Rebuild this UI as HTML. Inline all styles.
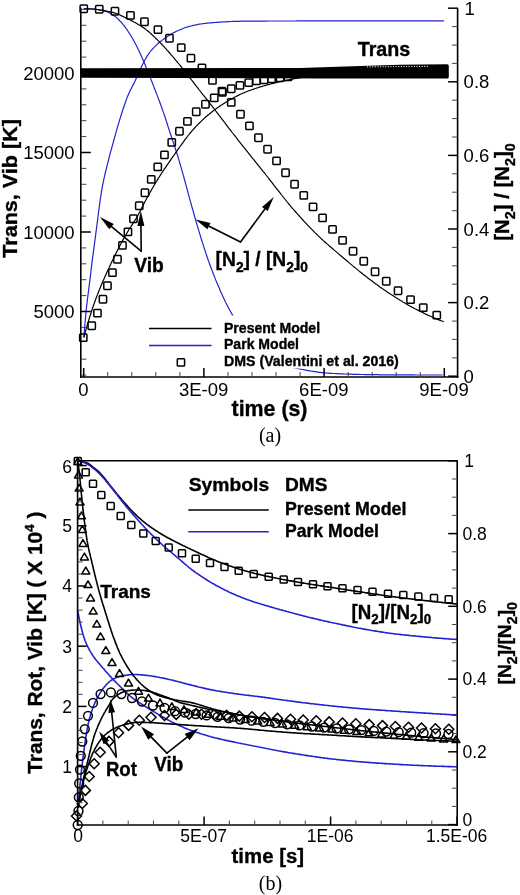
<!DOCTYPE html>
<html lang="en"><head><meta charset="utf-8"><title>Figure</title>
<style>html,body{margin:0;padding:0;background:#fff}svg{display:block}</style></head>
<body>
<svg width="520" height="895" viewBox="0 0 520 895">
<rect width="520" height="895" fill="#fff"/>
<polyline points="83.8,337.5 85,322.7 86.2,310 87.4,299.6 88.6,290.3 89.8,280.8 91,270.7 92.2,260.9 93.4,251.9 94.6,242.8 95.8,233.6 97,224.5 98.2,215 99.4,205.8 100.6,197.4 101.8,189.7 103,183.3 104.2,177.7 105.4,172.5 106.6,167.7 107.8,162.8 109,158 110.2,153.4 111.5,148.8 112.7,144.4 113.9,140 115.1,135.7 116.3,131.4 117.5,127.2 118.7,123.1 119.9,119.1 121.1,115.3 122.3,111.5 123.5,107.8 124.7,104.2 125.9,100.8 127.1,97.6 128.3,94.7 129.5,92 130.7,89.5 131.9,87.2 133.1,84.9 134.3,82.6 135.5,80.1 136.7,77.5 138,74.7 139.2,71.8 140.4,69 141.6,66.4 142.8,64 144,61.7 145.2,59.5 146.4,57.4 147.6,55.4 148.8,53.6 150,52 151.2,50.5 152.4,49.1 153.6,47.8 154.8,46.6 156,45.5 157.2,44.4 158.4,43.3 159.6,42.3 160.8,41.3 162,40.4 163.2,39.4 164.5,38.5 165.7,37.7 166.9,36.8 168.1,36 169.3,35.2 170.5,34.5 171.7,33.8 172.9,33.1 174.1,32.5 175.3,31.9 176.5,31.3 177.7,30.7 178.9,30.2 180.1,29.7 181.3,29.2 182.5,28.7 183.7,28.2 184.9,27.8 186.1,27.4 187.3,27 188.5,26.6 189.7,26.3 191,26 192.2,25.7 193.4,25.4 194.6,25.2 195.8,24.9 197,24.7 198.2,24.4 199.4,24.2 200.6,24 201.8,23.8 203,23.7 204.2,23.5 205.4,23.4 206.6,23.2 207.8,23.1 209,23 210.2,22.9 211.4,22.8 212.6,22.7 213.8,22.6 215,22.5 216.2,22.4 217.5,22.3 218.7,22.2 219.9,22.2 221.1,22.1 222.3,22 223.5,21.9 224.7,21.9 225.9,21.8 227.1,21.7 228.3,21.7 229.5,21.6 230.7,21.5 231.9,21.5 233.1,21.4 234.3,21.4 235.5,21.3 236.7,21.3 237.9,21.3 239.1,21.3 240.3,21.2 241.5,21.2 242.7,21.2 244,21.2 245.2,21.2 246.4,21.2 247.6,21.2 248.8,21.2 250,21.2 251.2,21.1 252.4,21.1 253.6,21.1 254.8,21.1 256,21.1 257.2,21.1 258.4,21.1 259.6,21.1 260.8,21.1 262,21.1 263.2,21.1 264.4,21.1 265.6,21.1 266.8,21.1 268,21 269.2,21 270.4,21 271.7,21 272.9,21 274.1,21 275.3,21 276.5,21 277.7,21 278.9,21 280.1,21 281.3,21 282.5,21 283.7,21 284.9,21 286.1,21 287.3,21 288.5,21 289.7,21 290.9,21 292.1,21 293.3,21 294.5,21 295.7,21 296.9,20.9 298.2,20.9 299.4,20.9 300.6,20.9 301.8,20.9 303,20.9 304.2,20.9 305.4,20.9 306.6,20.9 307.8,20.9 309,20.9 310.2,20.9 311.4,20.9 312.6,20.9 313.8,20.9 315,20.9 316.2,20.9 317.4,20.9 318.6,20.9 319.8,20.9 321,20.9 322.2,20.9 323.4,20.9 324.7,20.9 325.9,20.9 327.1,20.9 328.3,20.9 329.5,20.9 330.7,20.9 331.9,20.9 333.1,20.9 334.3,20.9 335.5,20.9 336.7,20.9 337.9,20.9 339.1,20.9 340.3,20.9 341.5,20.9 342.7,20.9 343.9,20.9 345.1,20.9 346.3,20.9 347.5,20.9 348.7,20.9 349.9,20.9 351.2,20.9 352.4,20.9 353.6,20.9 354.8,20.9 356,20.9 357.2,20.9 358.4,20.9 359.6,20.9 360.8,20.9 362,20.8 363.2,20.8 364.4,20.8 365.6,20.8 366.8,20.8 368,20.8 369.2,20.8 370.4,20.8 371.6,20.8 372.8,20.8 374,20.8 375.2,20.8 376.4,20.8 377.7,20.8 378.9,20.8 380.1,20.8 381.3,20.8 382.5,20.8 383.7,20.8 384.9,20.8 386.1,20.8 387.3,20.8 388.5,20.8 389.7,20.8 390.9,20.8 392.1,20.8 393.3,20.8 394.5,20.8 395.7,20.8 396.9,20.8 398.1,20.8 399.3,20.8 400.5,20.8 401.7,20.8 402.9,20.8 404.2,20.8 405.4,20.8 406.6,20.8 407.8,20.8 409,20.8 410.2,20.8 411.4,20.8 412.6,20.8 413.8,20.8 415,20.8 416.2,20.8 417.4,20.8 418.6,20.8 419.8,20.8 421,20.8 422.2,20.8 423.4,20.8 424.6,20.8 425.8,20.8 427,20.8 428.2,20.8 429.4,20.8 430.7,20.8 431.9,20.8 433.1,20.8 434.3,20.8 435.5,20.8 436.7,20.8 437.9,20.8 439.1,20.8 440.3,20.8 441.5,20.8 442.7,20.8 443.9,20.8" fill="none" stroke="#2323d2" stroke-width="1.2" stroke-linejoin="round" />
<polyline points="83.8,8.8 85,8.8 86.2,8.8 87.4,8.8 88.6,8.8 89.8,8.9 91,8.9 92.2,9 93.4,9.1 94.6,9.2 95.8,9.3 97,9.5 98.2,9.7 99.4,9.9 100.6,10.1 101.8,10.4 103,10.7 104.2,11 105.4,11.4 106.6,11.8 107.8,12.3 109,12.8 110.2,13.4 111.4,14 112.6,14.7 113.8,15.5 115,16.4 116.2,17.3 117.4,18.4 118.6,19.5 119.8,20.8 121,22 122.2,23.4 123.4,24.9 124.6,26.4 125.8,28.1 127,29.7 128.2,31.5 129.4,33.3 130.6,35.2 131.8,37.2 133,39.3 134.2,41.5 135.4,43.7 136.6,46 137.8,48.5 139,51 140.2,53.6 141.4,56.2 142.6,58.9 143.8,61.7 145,64.5 146.2,67.4 147.4,70.4 148.6,73.4 149.8,76.4 151,79.4 152.2,82.5 153.4,85.6 154.6,88.7 155.8,91.8 157,94.9 158.2,98.1 159.4,101.3 160.6,104.5 161.8,107.7 163,111.1 164.2,114.6 165.4,118.2 166.6,121.9 167.8,125.7 169,129.4 170.2,133.2 171.4,136.8 172.6,140.4 173.8,143.9 175,147.5 176.2,151.2 177.4,155 178.6,158.9 179.8,163 181,167.2 182.2,171.4 183.4,175.7 184.6,180 185.8,184.4 187,188.8 188.2,193.3 189.4,197.8 190.6,202.2 191.8,206.5 193,210.7 194.2,215 195.4,219.1 196.6,223.3 197.8,227.4 199,231.4 200.2,235.4 201.4,239.3 202.6,243.1 203.8,246.9 205,250.6 206.2,254.2 207.4,257.7 208.6,261.1 209.8,264.5 211,267.8 212.2,270.9 213.4,274 214.6,277.1 215.8,280.1 217,283 218.2,285.8 219.4,288.6 220.6,291.4 221.8,294.1 223,296.7 224.2,299.3 225.4,301.8 226.6,304.2 227.8,306.5 229,308.8 230.2,311 231.4,313.1 232.6,315.2 233.8,317.2 235,319.2 236.2,321.1 237.4,323.1 238.6,325 239.8,326.8 241,328.6 242.2,330.3 243.4,331.9 244.6,333.5 245.8,335 247,336.5 248.2,338 249.4,339.4 250.6,340.7 251.8,342.1 253,343.4 254.2,344.6 255.4,345.8 256.6,347 257.8,348.1 259,349.2 260.2,350.2 261.4,351.1 262.6,352.1 263.8,353 265,353.9 266.2,354.7 267.4,355.5 268.6,356.3 269.8,357 271,357.8 272.2,358.5 273.4,359.2 274.6,359.8 275.8,360.4 277,361 278.2,361.6 279.4,362.2 280.6,362.8 281.8,363.4 283,363.9 284.2,364.4 285.4,364.9 286.6,365.3 287.8,365.8 289,366.2 290.2,366.6 291.4,366.9 292.6,367.3 293.8,367.6 295,367.9 296.2,368.1 297.4,368.4 298.6,368.7 299.8,368.9 301,369.2 302.2,369.4 303.4,369.7 304.6,369.9 305.8,370.2 307,370.4 308.2,370.6 309.4,370.8 310.6,371 311.8,371.2 313,371.4 314.2,371.6 315.4,371.7 316.6,371.9 317.8,372.1 319,372.3 320.2,372.4 321.4,372.6 322.6,372.7 323.9,372.8 325.1,372.9 326.3,373 327.5,373.1 328.7,373.2 329.9,373.3 331.1,373.3 332.3,373.4 333.5,373.5 334.7,373.5 335.9,373.6 337.1,373.7 338.3,373.7 339.5,373.8 340.7,373.8 341.9,373.9 343.1,373.9 344.3,374 345.5,374 346.7,374.1 347.9,374.1 349.1,374.1 350.3,374.2 351.5,374.2 352.7,374.3 353.9,374.3 355.1,374.3 356.3,374.4 357.5,374.4 358.7,374.4 359.9,374.5 361.1,374.5 362.3,374.5 363.5,374.5 364.7,374.6 365.9,374.6 367.1,374.6 368.3,374.6 369.5,374.6 370.7,374.7 371.9,374.7 373.1,374.7 374.3,374.7 375.5,374.7 376.7,374.7 377.9,374.7 379.1,374.8 380.3,374.8 381.5,374.8 382.7,374.8 383.9,374.8 385.1,374.8 386.3,374.8 387.5,374.8 388.7,374.8 389.9,374.8 391.1,374.9 392.3,374.9 393.5,374.9 394.7,374.9 395.9,374.9 397.1,374.9 398.3,374.9 399.5,374.9 400.7,374.9 401.9,374.9 403.1,374.9 404.3,374.9 405.5,374.9 406.7,374.9 407.9,374.9 409.1,374.9 410.3,374.9 411.5,374.9 412.7,374.9 413.9,374.9 415.1,375 416.3,375 417.5,375 418.7,375 419.9,375 421.1,375 422.3,375 423.5,375 424.7,375 425.9,375 427.1,375 428.3,375 429.5,375 430.7,375 431.9,375 433.1,375 434.3,375 435.5,375 436.7,375 437.9,375 439.1,375 440.3,375 441.5,375 442.7,375" fill="none" stroke="#2323d2" stroke-width="1.2" stroke-linejoin="round" />
<polyline points="83.8,8.8 85,8.8 86.2,8.8 87.4,8.8 88.6,8.9 89.8,8.9 91,9 92.2,9 93.4,9.1 94.6,9.2 95.8,9.3 97,9.5 98.2,9.6 99.4,9.8 100.6,10 101.8,10.2 103,10.4 104.2,10.6 105.4,10.8 106.6,11 107.8,11.3 109,11.5 110.2,11.8 111.4,12.1 112.6,12.4 113.9,12.7 115.1,13.1 116.3,13.5 117.5,14 118.7,14.5 119.9,15 121.1,15.6 122.3,16.1 123.5,16.7 124.7,17.3 125.9,17.9 127.1,18.6 128.3,19.1 129.5,19.7 130.7,20.3 131.9,20.9 133.1,21.5 134.3,22.2 135.5,22.8 136.7,23.5 137.9,24.2 139.1,24.9 140.3,25.6 141.5,26.4 142.7,27.2 144,28 145.2,28.9 146.4,29.9 147.6,30.8 148.8,31.8 150,32.9 151.2,34 152.4,35.1 153.6,36.2 154.8,37.4 156,38.5 157.2,39.7 158.4,40.9 159.6,42.1 160.8,43.3 162,44.5 163.2,45.8 164.4,47.1 165.6,48.4 166.8,49.8 168,51.1 169.2,52.5 170.4,53.9 171.6,55.3 172.8,56.7 174.1,58.2 175.3,59.6 176.5,61.1 177.7,62.5 178.9,64 180.1,65.5 181.3,66.9 182.5,68.4 183.7,69.9 184.9,71.4 186.1,72.9 187.3,74.4 188.5,76 189.7,77.6 190.9,79.1 192.1,80.7 193.3,82.2 194.5,83.8 195.7,85.4 196.9,86.9 198.1,88.4 199.3,90 200.5,91.5 201.7,93.1 202.9,94.6 204.2,96.1 205.4,97.7 206.6,99.2 207.8,100.7 209,102.3 210.2,103.8 211.4,105.3 212.6,106.9 213.8,108.4 215,110 216.2,111.5 217.4,113.1 218.6,114.7 219.8,116.2 221,117.8 222.2,119.4 223.4,120.9 224.6,122.5 225.8,124.1 227,125.7 228.2,127.3 229.4,128.8 230.6,130.4 231.8,132 233,133.5 234.3,135.1 235.5,136.7 236.7,138.2 237.9,139.8 239.1,141.3 240.3,142.8 241.5,144.4 242.7,145.9 243.9,147.4 245.1,148.9 246.3,150.4 247.5,151.9 248.7,153.4 249.9,154.9 251.1,156.4 252.3,157.9 253.5,159.4 254.7,160.9 255.9,162.4 257.1,163.9 258.3,165.4 259.5,166.9 260.7,168.4 261.9,169.9 263.1,171.4 264.4,172.9 265.6,174.5 266.8,176 268,177.5 269.2,179.1 270.4,180.6 271.6,182.2 272.8,183.7 274,185.3 275.2,186.8 276.4,188.4 277.6,189.9 278.8,191.4 280,192.9 281.2,194.5 282.4,196 283.6,197.5 284.8,199 286,200.5 287.2,202 288.4,203.5 289.6,204.9 290.8,206.4 292,207.8 293.2,209.2 294.5,210.6 295.7,212 296.9,213.4 298.1,214.7 299.3,216 300.5,217.4 301.7,218.7 302.9,220 304.1,221.3 305.3,222.6 306.5,223.9 307.7,225.2 308.9,226.4 310.1,227.7 311.3,228.9 312.5,230.1 313.7,231.4 314.9,232.6 316.1,233.7 317.3,234.9 318.5,236.1 319.7,237.2 320.9,238.4 322.1,239.5 323.3,240.6 324.6,241.7 325.8,242.8 327,243.9 328.2,244.9 329.4,246 330.6,247 331.8,248 333,249 334.2,250.1 335.4,251.1 336.6,252.1 337.8,253.1 339,254.1 340.2,255.2 341.4,256.2 342.6,257.2 343.8,258.3 345,259.3 346.2,260.3 347.4,261.3 348.6,262.4 349.8,263.4 351,264.4 352.2,265.4 353.4,266.4 354.7,267.4 355.9,268.4 357.1,269.4 358.3,270.4 359.5,271.4 360.7,272.3 361.9,273.3 363.1,274.3 364.3,275.2 365.5,276.1 366.7,277.1 367.9,278 369.1,278.9 370.3,279.8 371.5,280.7 372.7,281.6 373.9,282.5 375.1,283.4 376.3,284.3 377.5,285.1 378.7,286 379.9,286.9 381.1,287.7 382.3,288.6 383.5,289.4 384.8,290.2 386,291.1 387.2,291.9 388.4,292.7 389.6,293.5 390.8,294.3 392,295 393.2,295.8 394.4,296.6 395.6,297.4 396.8,298.1 398,298.9 399.2,299.6 400.4,300.4 401.6,301.1 402.8,301.9 404,302.6 405.2,303.3 406.4,304 407.6,304.7 408.8,305.4 410,306.1 411.2,306.7 412.4,307.4 413.6,308 414.9,308.7 416.1,309.3 417.3,309.9 418.5,310.5 419.7,311.1 420.9,311.7 422.1,312.3 423.3,312.9 424.5,313.5 425.7,314.1 426.9,314.6 428.1,315.2 429.3,315.7 430.5,316.3 431.7,316.8 432.9,317.3 434.1,317.9 435.3,318.4 436.5,318.9 437.7,319.4 438.9,319.9 440.1,320.4 441.3,320.8 442.5,321.3 443.8,321.8" fill="none" stroke="#000" stroke-width="1.2" stroke-linejoin="round" />
<polyline points="83.8,337.5 85,333.1 86.2,328.9 87.4,324.7 88.6,320.7 89.8,316.8 91,313 92.2,309.3 93.4,305.8 94.6,302.3 95.8,299 97,295.9 98.2,292.8 99.4,289.8 100.6,286.8 101.8,284 103,281.1 104.2,278.4 105.4,275.7 106.6,273 107.8,270.3 109.1,267.7 110.3,265.1 111.5,262.6 112.7,260 113.9,257.5 115.1,255.1 116.3,252.7 117.5,250.3 118.7,247.9 119.9,245.6 121.1,243.3 122.3,241.1 123.5,238.9 124.7,236.7 125.9,234.7 127.1,232.7 128.3,230.7 129.5,228.8 130.7,227 131.9,225.1 133.1,223.2 134.4,221.3 135.6,219.3 136.8,217.3 138,215.2 139.2,213 140.4,210.7 141.6,208.3 142.8,206 144,203.6 145.2,201.3 146.4,199 147.6,196.8 148.8,194.7 150,192.5 151.2,190.4 152.4,188.3 153.6,186.2 154.8,184.2 156,182.2 157.2,180.2 158.5,178.2 159.7,176.3 160.9,174.4 162.1,172.5 163.3,170.7 164.5,168.9 165.7,167.1 166.9,165.3 168.1,163.6 169.3,161.9 170.5,160.1 171.7,158.4 172.9,156.7 174.1,155 175.3,153.3 176.5,151.6 177.7,149.9 178.9,148.2 180.1,146.5 181.3,144.8 182.5,143.1 183.8,141.4 185,139.7 186.2,138.1 187.4,136.5 188.6,135 189.8,133.5 191,132.1 192.2,130.7 193.4,129.3 194.6,128 195.8,126.7 197,125.4 198.2,124.2 199.4,123 200.6,121.8 201.8,120.6 203,119.5 204.2,118.4 205.4,117.3 206.6,116.2 207.8,115.2 209.1,114.2 210.3,113.2 211.5,112.2 212.7,111.3 213.9,110.3 215.1,109.4 216.3,108.6 217.5,107.7 218.7,106.9 219.9,106 221.1,105.2 222.3,104.5 223.5,103.7 224.7,102.9 225.9,102.2 227.1,101.5 228.3,100.8 229.5,100.1 230.7,99.4 231.9,98.7 233.2,98 234.4,97.3 235.6,96.7 236.8,96.1 238,95.5 239.2,94.9 240.4,94.3 241.6,93.8 242.8,93.3 244,92.8 245.2,92.3 246.4,91.8 247.6,91.3 248.8,90.8 250,90.4 251.2,90 252.4,89.5 253.6,89.1 254.8,88.7 256,88.3 257.2,87.9 258.5,87.5 259.7,87.1 260.9,86.7 262.1,86.4 263.3,86 264.5,85.6 265.7,85.3 266.9,85 268.1,84.6 269.3,84.3 270.5,84 271.7,83.7 272.9,83.4 274.1,83.1 275.3,82.8 276.5,82.5 277.7,82.2 278.9,82 280.1,81.7 281.3,81.4 282.6,81.1 283.8,80.9 285,80.6 286.2,80.4 287.4,80.1 288.6,79.9 289.8,79.6 291,79.4 292.2,79.2 293.4,78.9 294.6,78.7 295.8,78.5 297,78.3 298.2,78 299.4,77.8 300.6,77.6 301.8,77.4 303,77.2 304.2,77 305.4,76.9 306.6,76.7 307.9,76.6 309.1,76.4 310.3,76.3 311.5,76.1 312.7,76 313.9,75.9 315.1,75.7 316.3,75.6 317.5,75.5 318.7,75.4 319.9,75.3 321.1,75.2 322.3,75 323.5,74.9 324.7,74.9 325.9,74.8 327.1,74.7 328.3,74.6 329.5,74.5 330.7,74.5 331.9,74.4 333.2,74.3 334.4,74.3 335.6,74.2 336.8,74.1 338,74.1 339.2,74 340.4,74 341.6,73.9 342.8,73.9 344,73.8 345.2,73.8 346.4,73.7 347.6,73.7 348.8,73.6 350,73.6 351.2,73.6 352.4,73.5 353.6,73.5 354.8,73.4 356,73.4 357.3,73.4 358.5,73.3 359.7,73.3 360.9,73.3 362.1,73.2 363.3,73.2 364.5,73.2 365.7,73.2 366.9,73.1 368.1,73.1 369.3,73.1 370.5,73.1 371.7,73 372.9,73 374.1,73 375.3,73 376.5,72.9 377.7,72.9 378.9,72.9 380.1,72.9 381.3,72.9 382.6,72.8 383.8,72.8 385,72.8 386.2,72.8 387.4,72.8 388.6,72.7 389.8,72.7 391,72.7 392.2,72.7 393.4,72.7 394.6,72.7 395.8,72.6 397,72.6 398.2,72.6 399.4,72.6 400.6,72.6 401.8,72.6 403,72.6 404.2,72.6 405.4,72.5 406.6,72.5 407.9,72.5 409.1,72.5 410.3,72.5 411.5,72.5 412.7,72.5 413.9,72.5 415.1,72.5 416.3,72.4 417.5,72.4 418.7,72.4 419.9,72.4 421.1,72.4 422.3,72.4 423.5,72.4 424.7,72.4 425.9,72.4 427.1,72.4 428.3,72.4 429.5,72.4 430.7,72.3 432,72.3 433.2,72.3 434.4,72.3 435.6,72.3 436.8,72.3 438,72.3 439.2,72.3 440.4,72.3 441.6,72.3 442.8,72.3 444,72.3" fill="none" stroke="#000" stroke-width="1.2" stroke-linejoin="round" />
<path d="M81.1 68.2 L300 68 L360 66 L400 64.8 L447 64.2 Q448.8 64.2 448.8 66 L448.8 77 Q448.8 78.6 447 78.6 L320 78.4 L81.1 77.8 Z" fill="#000"/>
<line x1="367" y1="66.9" x2="428" y2="66.4" stroke="#fff" stroke-width="1" stroke-dasharray="1.1 1.5"/>
<rect x="80.1" y="5.1" width="7.3" height="7.3" rx="0.8" fill="none" stroke="#000" stroke-width="1.5"/>
<rect x="95.6" y="5.6" width="7.3" height="7.3" rx="0.8" fill="none" stroke="#000" stroke-width="1.5"/>
<rect x="111.3" y="7.6" width="7.3" height="7.3" rx="0.8" fill="none" stroke="#000" stroke-width="1.5"/>
<rect x="126.8" y="11.8" width="7.3" height="7.3" rx="0.8" fill="none" stroke="#000" stroke-width="1.5"/>
<rect x="140.8" y="18.1" width="7.3" height="7.3" rx="0.8" fill="none" stroke="#000" stroke-width="1.5"/>
<rect x="154.3" y="25.9" width="7.3" height="7.3" rx="0.8" fill="none" stroke="#000" stroke-width="1.5"/>
<rect x="165.8" y="34.6" width="7.3" height="7.3" rx="0.8" fill="none" stroke="#000" stroke-width="1.5"/>
<rect x="177.6" y="43.9" width="7.3" height="7.3" rx="0.8" fill="none" stroke="#000" stroke-width="1.5"/>
<rect x="187.3" y="54.4" width="7.3" height="7.3" rx="0.8" fill="none" stroke="#000" stroke-width="1.5"/>
<rect x="198.3" y="64.3" width="7.3" height="7.3" rx="0.8" fill="none" stroke="#000" stroke-width="1.5"/>
<rect x="208.8" y="76.8" width="7.3" height="7.3" rx="0.8" fill="none" stroke="#000" stroke-width="1.5"/>
<rect x="218.3" y="87.6" width="7.3" height="7.3" rx="0.8" fill="none" stroke="#000" stroke-width="1.5"/>
<rect x="227.6" y="98.8" width="7.3" height="7.3" rx="0.8" fill="none" stroke="#000" stroke-width="1.5"/>
<rect x="236.8" y="110.6" width="7.3" height="7.3" rx="0.8" fill="none" stroke="#000" stroke-width="1.5"/>
<rect x="245.8" y="122.3" width="7.3" height="7.3" rx="0.8" fill="none" stroke="#000" stroke-width="1.5"/>
<rect x="254.8" y="134.1" width="7.3" height="7.3" rx="0.8" fill="none" stroke="#000" stroke-width="1.5"/>
<rect x="263.9" y="145.6" width="7.3" height="7.3" rx="0.8" fill="none" stroke="#000" stroke-width="1.5"/>
<rect x="272.9" y="157.3" width="7.3" height="7.3" rx="0.8" fill="none" stroke="#000" stroke-width="1.5"/>
<rect x="281.9" y="169.1" width="7.3" height="7.3" rx="0.8" fill="none" stroke="#000" stroke-width="1.5"/>
<rect x="290.9" y="180.6" width="7.3" height="7.3" rx="0.8" fill="none" stroke="#000" stroke-width="1.5"/>
<rect x="300.1" y="191.8" width="7.3" height="7.3" rx="0.8" fill="none" stroke="#000" stroke-width="1.5"/>
<rect x="309.4" y="203.3" width="7.3" height="7.3" rx="0.8" fill="none" stroke="#000" stroke-width="1.5"/>
<rect x="318.9" y="214.3" width="7.3" height="7.3" rx="0.8" fill="none" stroke="#000" stroke-width="1.5"/>
<rect x="328.9" y="225.8" width="7.3" height="7.3" rx="0.8" fill="none" stroke="#000" stroke-width="1.5"/>
<rect x="338.9" y="236.8" width="7.3" height="7.3" rx="0.8" fill="none" stroke="#000" stroke-width="1.5"/>
<rect x="349.4" y="247.6" width="7.3" height="7.3" rx="0.8" fill="none" stroke="#000" stroke-width="1.5"/>
<rect x="360.1" y="257.6" width="7.3" height="7.3" rx="0.8" fill="none" stroke="#000" stroke-width="1.5"/>
<rect x="371.4" y="268.1" width="7.3" height="7.3" rx="0.8" fill="none" stroke="#000" stroke-width="1.5"/>
<rect x="382.6" y="277.6" width="7.3" height="7.3" rx="0.8" fill="none" stroke="#000" stroke-width="1.5"/>
<rect x="394.4" y="287.1" width="7.3" height="7.3" rx="0.8" fill="none" stroke="#000" stroke-width="1.5"/>
<rect x="406.9" y="295.9" width="7.3" height="7.3" rx="0.8" fill="none" stroke="#000" stroke-width="1.5"/>
<rect x="419.6" y="303.9" width="7.3" height="7.3" rx="0.8" fill="none" stroke="#000" stroke-width="1.5"/>
<rect x="433.1" y="311.4" width="7.3" height="7.3" rx="0.8" fill="none" stroke="#000" stroke-width="1.5"/>
<rect x="79.6" y="333.9" width="7.3" height="7.3" rx="0.8" fill="none" stroke="#000" stroke-width="1.5"/>
<rect x="88.1" y="322.1" width="7.3" height="7.3" rx="0.8" fill="none" stroke="#000" stroke-width="1.5"/>
<rect x="93.8" y="309.4" width="7.3" height="7.3" rx="0.8" fill="none" stroke="#000" stroke-width="1.5"/>
<rect x="99.3" y="295.6" width="7.3" height="7.3" rx="0.8" fill="none" stroke="#000" stroke-width="1.5"/>
<rect x="103.8" y="282.1" width="7.3" height="7.3" rx="0.8" fill="none" stroke="#000" stroke-width="1.5"/>
<rect x="108.8" y="268.9" width="7.3" height="7.3" rx="0.8" fill="none" stroke="#000" stroke-width="1.5"/>
<rect x="113.8" y="255.6" width="7.3" height="7.3" rx="0.8" fill="none" stroke="#000" stroke-width="1.5"/>
<rect x="118.8" y="241.8" width="7.3" height="7.3" rx="0.8" fill="none" stroke="#000" stroke-width="1.5"/>
<rect x="124.3" y="228.3" width="7.3" height="7.3" rx="0.8" fill="none" stroke="#000" stroke-width="1.5"/>
<rect x="129.8" y="215.1" width="7.3" height="7.3" rx="0.8" fill="none" stroke="#000" stroke-width="1.5"/>
<rect x="135.6" y="202.1" width="7.3" height="7.3" rx="0.8" fill="none" stroke="#000" stroke-width="1.5"/>
<rect x="141.3" y="189.1" width="7.3" height="7.3" rx="0.8" fill="none" stroke="#000" stroke-width="1.5"/>
<rect x="147.6" y="175.8" width="7.3" height="7.3" rx="0.8" fill="none" stroke="#000" stroke-width="1.5"/>
<rect x="154.1" y="163.3" width="7.3" height="7.3" rx="0.8" fill="none" stroke="#000" stroke-width="1.5"/>
<rect x="160.8" y="151.3" width="7.3" height="7.3" rx="0.8" fill="none" stroke="#000" stroke-width="1.5"/>
<rect x="168.1" y="138.8" width="7.3" height="7.3" rx="0.8" fill="none" stroke="#000" stroke-width="1.5"/>
<rect x="175.8" y="127.6" width="7.3" height="7.3" rx="0.8" fill="none" stroke="#000" stroke-width="1.5"/>
<rect x="183.8" y="117.8" width="7.3" height="7.3" rx="0.8" fill="none" stroke="#000" stroke-width="1.5"/>
<rect x="192.6" y="108.1" width="7.3" height="7.3" rx="0.8" fill="none" stroke="#000" stroke-width="1.5"/>
<rect x="201.8" y="100.6" width="7.3" height="7.3" rx="0.8" fill="none" stroke="#000" stroke-width="1.5"/>
<rect x="210.6" y="94.3" width="7.3" height="7.3" rx="0.8" fill="none" stroke="#000" stroke-width="1.5"/>
<rect x="218.8" y="88.6" width="7.3" height="7.3" rx="0.8" fill="none" stroke="#000" stroke-width="1.5"/>
<rect x="227.6" y="85.1" width="7.3" height="7.3" rx="0.8" fill="none" stroke="#000" stroke-width="1.5"/>
<rect x="236.3" y="81.8" width="7.3" height="7.3" rx="0.8" fill="none" stroke="#000" stroke-width="1.5"/>
<rect x="245.1" y="79" width="7.3" height="7.3" rx="0.8" fill="none" stroke="#000" stroke-width="1.5"/>
<rect x="252.8" y="77.3" width="7.3" height="7.3" rx="0.8" fill="none" stroke="#000" stroke-width="1.5"/>
<rect x="260.4" y="76.1" width="7.3" height="7.3" rx="0.8" fill="none" stroke="#000" stroke-width="1.5"/>
<rect x="267.9" y="75.1" width="7.3" height="7.3" rx="0.8" fill="none" stroke="#000" stroke-width="1.5"/>
<rect x="276.4" y="74.1" width="7.3" height="7.3" rx="0.8" fill="none" stroke="#000" stroke-width="1.5"/>
<rect x="284.4" y="73.3" width="7.3" height="7.3" rx="0.8" fill="none" stroke="#000" stroke-width="1.5"/>
<rect x="145" y="315.5" width="258" height="53" fill="#fff"/>
<line x1="149" y1="328.5" x2="211.5" y2="328.5" stroke="#000" stroke-width="1.5" stroke-linecap="butt"/>
<line x1="149" y1="345.5" x2="211.5" y2="345.5" stroke="#2323d2" stroke-width="1.5" stroke-linecap="butt"/>
<rect x="177.3" y="358.7" width="7.3" height="7.3" rx="0.8" fill="none" stroke="#000" stroke-width="1.5"/>
<text transform="translate(224 332.6) scale(1.0053 1)" font-family='"Liberation Sans", Arial, Helvetica, sans-serif' font-size="14" font-weight="bold" stroke="#000" stroke-width="0.35" >Present Model</text>
<text transform="translate(224 349.1) scale(1.0041 1)" font-family='"Liberation Sans", Arial, Helvetica, sans-serif' font-size="14" font-weight="bold" stroke="#000" stroke-width="0.35" >Park Model</text>
<text transform="translate(224 365.9) scale(1.0132 1)" font-family='"Liberation Sans", Arial, Helvetica, sans-serif' font-size="14" font-weight="bold" stroke="#000" stroke-width="0.35" >DMS (Valentini et al. 2016)</text>
<line x1="141.2" y1="251.2" x2="110" y2="225.3" stroke="#000" stroke-width="1.6" stroke-linecap="round"/>
<path d="M100 217L113.8 223.9L109.3 229.3Z" fill="#000"/>
<line x1="141.2" y1="251.2" x2="140.9" y2="224" stroke="#000" stroke-width="1.6" stroke-linecap="round"/>
<path d="M140.8 211L144.4 226L137.4 226Z" fill="#000"/>
<text transform="translate(134.3 271.8) scale(0.9838 1)" font-family='"Liberation Sans", Arial, Helvetica, sans-serif' font-size="19.5" font-weight="bold" stroke="#000" stroke-width="0.35" >Vib</text>
<line x1="240.5" y1="242" x2="207.1" y2="225.3" stroke="#000" stroke-width="1.6" stroke-linecap="round"/>
<path d="M195.5 219.5L210.5 223.1L207.4 229.3Z" fill="#000"/>
<line x1="240.5" y1="242" x2="266" y2="207.5" stroke="#000" stroke-width="1.6" stroke-linecap="round"/>
<path d="M273.8 197L267.7 211.1L262 207Z" fill="#000"/>
<text transform="translate(215.6 266.3) scale(0.9856 1)" font-family='"Liberation Sans", Arial, Helvetica, sans-serif' font-size="19.5" font-weight="bold" stroke="#000" stroke-width="0.35" >[N<tspan font-size="14" dy="5.5">2</tspan><tspan dy="-5.5">] / [N</tspan><tspan font-size="14" dy="5.5">2</tspan><tspan dy="-5.5">]</tspan><tspan font-size="14" dy="5.5">0</tspan></text>
<text transform="translate(357.7 55.6) scale(1.0091 1)" font-family='"Liberation Sans", Arial, Helvetica, sans-serif' font-size="19.5" font-weight="bold" stroke="#000" stroke-width="0.35" >Trans</text>
<line x1="80.8" y1="7.7" x2="80.8" y2="377.8" stroke="#000" stroke-width="1.6" stroke-linecap="butt"/>
<line x1="80" y1="377" x2="458.4" y2="377" stroke="#000" stroke-width="1.6" stroke-linecap="butt"/>
<line x1="457.6" y1="7.7" x2="457.6" y2="377.8" stroke="#000" stroke-width="1.6" stroke-linecap="butt"/>
<line x1="80.8" y1="375.1" x2="86.4" y2="375.1" stroke="#444" stroke-width="1.0" stroke-linecap="butt"/>
<line x1="80.8" y1="359.2" x2="86.4" y2="359.2" stroke="#444" stroke-width="1.0" stroke-linecap="butt"/>
<line x1="80.8" y1="327.4" x2="86.4" y2="327.4" stroke="#444" stroke-width="1.0" stroke-linecap="butt"/>
<line x1="80.8" y1="311.5" x2="90.8" y2="311.5" stroke="#000" stroke-width="1.5" stroke-linecap="butt"/>
<line x1="80.8" y1="295.6" x2="86.4" y2="295.6" stroke="#444" stroke-width="1.0" stroke-linecap="butt"/>
<line x1="80.8" y1="279.7" x2="86.4" y2="279.7" stroke="#444" stroke-width="1.0" stroke-linecap="butt"/>
<line x1="80.8" y1="263.8" x2="86.4" y2="263.8" stroke="#444" stroke-width="1.0" stroke-linecap="butt"/>
<line x1="80.8" y1="247.9" x2="86.4" y2="247.9" stroke="#444" stroke-width="1.0" stroke-linecap="butt"/>
<line x1="80.8" y1="232" x2="90.8" y2="232" stroke="#000" stroke-width="1.5" stroke-linecap="butt"/>
<line x1="80.8" y1="216.1" x2="86.4" y2="216.1" stroke="#444" stroke-width="1.0" stroke-linecap="butt"/>
<line x1="80.8" y1="200.2" x2="86.4" y2="200.2" stroke="#444" stroke-width="1.0" stroke-linecap="butt"/>
<line x1="80.8" y1="184.3" x2="86.4" y2="184.3" stroke="#444" stroke-width="1.0" stroke-linecap="butt"/>
<line x1="80.8" y1="168.4" x2="86.4" y2="168.4" stroke="#444" stroke-width="1.0" stroke-linecap="butt"/>
<line x1="80.8" y1="152.5" x2="90.8" y2="152.5" stroke="#000" stroke-width="1.5" stroke-linecap="butt"/>
<line x1="80.8" y1="136.6" x2="86.4" y2="136.6" stroke="#444" stroke-width="1.0" stroke-linecap="butt"/>
<line x1="80.8" y1="120.7" x2="86.4" y2="120.7" stroke="#444" stroke-width="1.0" stroke-linecap="butt"/>
<line x1="80.8" y1="104.8" x2="86.4" y2="104.8" stroke="#444" stroke-width="1.0" stroke-linecap="butt"/>
<line x1="80.8" y1="88.9" x2="86.4" y2="88.9" stroke="#444" stroke-width="1.0" stroke-linecap="butt"/>
<line x1="80.8" y1="73" x2="90.8" y2="73" stroke="#000" stroke-width="1.5" stroke-linecap="butt"/>
<line x1="80.8" y1="57.1" x2="86.4" y2="57.1" stroke="#444" stroke-width="1.0" stroke-linecap="butt"/>
<line x1="80.8" y1="41.2" x2="86.4" y2="41.2" stroke="#444" stroke-width="1.0" stroke-linecap="butt"/>
<line x1="80.8" y1="25.3" x2="86.4" y2="25.3" stroke="#444" stroke-width="1.0" stroke-linecap="butt"/>
<line x1="80.8" y1="9.4" x2="86.4" y2="9.4" stroke="#444" stroke-width="1.0" stroke-linecap="butt"/>
<line x1="448.1" y1="376.2" x2="457.6" y2="376.2" stroke="#000" stroke-width="1.5" stroke-linecap="butt"/>
<line x1="452" y1="357.9" x2="457.6" y2="357.9" stroke="#444" stroke-width="1.0" stroke-linecap="butt"/>
<line x1="452" y1="339.4" x2="457.6" y2="339.4" stroke="#444" stroke-width="1.0" stroke-linecap="butt"/>
<line x1="452" y1="321.1" x2="457.6" y2="321.1" stroke="#444" stroke-width="1.0" stroke-linecap="butt"/>
<line x1="448.1" y1="302.6" x2="457.6" y2="302.6" stroke="#000" stroke-width="1.5" stroke-linecap="butt"/>
<line x1="452" y1="284.2" x2="457.6" y2="284.2" stroke="#444" stroke-width="1.0" stroke-linecap="butt"/>
<line x1="452" y1="265.8" x2="457.6" y2="265.8" stroke="#444" stroke-width="1.0" stroke-linecap="butt"/>
<line x1="452" y1="247.4" x2="457.6" y2="247.4" stroke="#444" stroke-width="1.0" stroke-linecap="butt"/>
<line x1="448.1" y1="229" x2="457.6" y2="229" stroke="#000" stroke-width="1.5" stroke-linecap="butt"/>
<line x1="452" y1="210.7" x2="457.6" y2="210.7" stroke="#444" stroke-width="1.0" stroke-linecap="butt"/>
<line x1="452" y1="192.2" x2="457.6" y2="192.2" stroke="#444" stroke-width="1.0" stroke-linecap="butt"/>
<line x1="452" y1="173.8" x2="457.6" y2="173.8" stroke="#444" stroke-width="1.0" stroke-linecap="butt"/>
<line x1="448.1" y1="155.4" x2="457.6" y2="155.4" stroke="#000" stroke-width="1.5" stroke-linecap="butt"/>
<line x1="452" y1="137" x2="457.6" y2="137" stroke="#444" stroke-width="1.0" stroke-linecap="butt"/>
<line x1="452" y1="118.6" x2="457.6" y2="118.6" stroke="#444" stroke-width="1.0" stroke-linecap="butt"/>
<line x1="452" y1="100.2" x2="457.6" y2="100.2" stroke="#444" stroke-width="1.0" stroke-linecap="butt"/>
<line x1="448.1" y1="81.8" x2="457.6" y2="81.8" stroke="#000" stroke-width="1.5" stroke-linecap="butt"/>
<line x1="452" y1="63.4" x2="457.6" y2="63.4" stroke="#444" stroke-width="1.0" stroke-linecap="butt"/>
<line x1="452" y1="45.1" x2="457.6" y2="45.1" stroke="#444" stroke-width="1.0" stroke-linecap="butt"/>
<line x1="452" y1="26.6" x2="457.6" y2="26.6" stroke="#444" stroke-width="1.0" stroke-linecap="butt"/>
<line x1="448.1" y1="8.2" x2="457.6" y2="8.2" stroke="#000" stroke-width="1.5" stroke-linecap="butt"/>
<line x1="83.7" y1="368" x2="83.7" y2="377" stroke="#000" stroke-width="1.5" stroke-linecap="butt"/>
<line x1="107.7" y1="372" x2="107.7" y2="377" stroke="#444" stroke-width="1.0" stroke-linecap="butt"/>
<line x1="131.8" y1="372" x2="131.8" y2="377" stroke="#444" stroke-width="1.0" stroke-linecap="butt"/>
<line x1="155.8" y1="372" x2="155.8" y2="377" stroke="#444" stroke-width="1.0" stroke-linecap="butt"/>
<line x1="179.9" y1="372" x2="179.9" y2="377" stroke="#444" stroke-width="1.0" stroke-linecap="butt"/>
<line x1="203.9" y1="368" x2="203.9" y2="377" stroke="#000" stroke-width="1.5" stroke-linecap="butt"/>
<line x1="228" y1="372" x2="228" y2="377" stroke="#444" stroke-width="1.0" stroke-linecap="butt"/>
<line x1="252" y1="372" x2="252" y2="377" stroke="#444" stroke-width="1.0" stroke-linecap="butt"/>
<line x1="276" y1="372" x2="276" y2="377" stroke="#444" stroke-width="1.0" stroke-linecap="butt"/>
<line x1="300.1" y1="372" x2="300.1" y2="377" stroke="#444" stroke-width="1.0" stroke-linecap="butt"/>
<line x1="324.1" y1="368" x2="324.1" y2="377" stroke="#000" stroke-width="1.5" stroke-linecap="butt"/>
<line x1="348.2" y1="372" x2="348.2" y2="377" stroke="#444" stroke-width="1.0" stroke-linecap="butt"/>
<line x1="372.2" y1="372" x2="372.2" y2="377" stroke="#444" stroke-width="1.0" stroke-linecap="butt"/>
<line x1="396.2" y1="372" x2="396.2" y2="377" stroke="#444" stroke-width="1.0" stroke-linecap="butt"/>
<line x1="420.3" y1="372" x2="420.3" y2="377" stroke="#444" stroke-width="1.0" stroke-linecap="butt"/>
<line x1="444.3" y1="368" x2="444.3" y2="377" stroke="#000" stroke-width="1.5" stroke-linecap="butt"/>
<text transform="translate(74.6 79.6)" font-family='"Liberation Sans", Arial, Helvetica, sans-serif' font-size="18.5" text-anchor="end" >20000</text>
<text transform="translate(74.6 159.1)" font-family='"Liberation Sans", Arial, Helvetica, sans-serif' font-size="18.5" text-anchor="end" >15000</text>
<text transform="translate(74.6 238.6)" font-family='"Liberation Sans", Arial, Helvetica, sans-serif' font-size="18.5" text-anchor="end" >10000</text>
<text transform="translate(74.6 318.1)" font-family='"Liberation Sans", Arial, Helvetica, sans-serif' font-size="18.5" text-anchor="end" >5000</text>
<text transform="translate(83.4 396)" font-family='"Liberation Sans", Arial, Helvetica, sans-serif' font-size="18.5" text-anchor="middle" >0</text>
<text transform="translate(203.6 396)" font-family='"Liberation Sans", Arial, Helvetica, sans-serif' font-size="18.5" text-anchor="middle" >3E-09</text>
<text transform="translate(323.8 396)" font-family='"Liberation Sans", Arial, Helvetica, sans-serif' font-size="18.5" text-anchor="middle" >6E-09</text>
<text transform="translate(444 396)" font-family='"Liberation Sans", Arial, Helvetica, sans-serif' font-size="18.5" text-anchor="middle" >9E-09</text>
<text transform="translate(464.6 14.8)" font-family='"Liberation Sans", Arial, Helvetica, sans-serif' font-size="18.5" >1</text>
<text transform="translate(463.6 88.4)" font-family='"Liberation Sans", Arial, Helvetica, sans-serif' font-size="18.5" >0.8</text>
<text transform="translate(463.6 162.1)" font-family='"Liberation Sans", Arial, Helvetica, sans-serif' font-size="18.5" >0.6</text>
<text transform="translate(463.6 235.6)" font-family='"Liberation Sans", Arial, Helvetica, sans-serif' font-size="18.5" >0.4</text>
<text transform="translate(463.6 309.2)" font-family='"Liberation Sans", Arial, Helvetica, sans-serif' font-size="18.5" >0.2</text>
<text transform="translate(463.6 382.9)" font-family='"Liberation Sans", Arial, Helvetica, sans-serif' font-size="18.5" >0</text>
<text transform="translate(17.4 257.7) rotate(-90) scale(1.0276 1)" font-family='"Liberation Sans", Arial, Helvetica, sans-serif' font-size="21" font-weight="bold" stroke="#000" stroke-width="0.35" >Trans, Vib [K]</text>
<text transform="translate(509.3 240.7) rotate(-90) scale(1.0203 1)" font-family='"Liberation Sans", Arial, Helvetica, sans-serif' font-size="20" font-weight="bold" stroke="#000" stroke-width="0.35" >[N<tspan font-size="14" dy="5.5">2</tspan><tspan dy="-5.5">] / [N</tspan><tspan font-size="14" dy="5.5">2</tspan><tspan dy="-5.5">]</tspan><tspan font-size="14" dy="5.5">0</tspan></text>
<text transform="translate(269.5 416) scale(1.0033 1)" font-family='"Liberation Sans", Arial, Helvetica, sans-serif' font-size="21.3" font-weight="bold" stroke="#000" stroke-width="0.35" text-anchor="middle" >time (s)</text>
<text transform="translate(270 441.5)" font-family='"Liberation Serif", "Times New Roman", serif' font-size="20" text-anchor="middle" >(a)</text>
<line x1="77.6" y1="460.8" x2="457.2" y2="460.8" stroke="#000" stroke-width="1.5" stroke-linecap="butt"/>
<polyline points="77.5,610 78.8,616.5 80,622.4 81.3,627.7 82.6,632.7 83.8,637.1 85.1,640.8 86.4,643.8 87.7,646.6 88.9,649 90.2,651.3 91.5,653.4 92.7,655.4 94,657.2 95.3,658.9 96.5,660.5 97.8,662.1 99.1,663.5 100.3,665 101.6,666.5 102.9,668 104.2,669.4 105.4,670.9 106.7,672.4 108,673.8 109.2,675.2 110.5,676.6 111.8,678 113,679.3 114.3,680.6 115.6,681.9 116.8,683.2 118.1,684.5 119.4,685.7 120.7,687 121.9,688.2 123.2,689.4 124.5,690.7 125.7,691.9 127,693.1 128.3,694.3 129.5,695.5 130.8,696.6 132.1,697.7 133.3,698.6 134.6,699.6 135.9,700.5 137.2,701.3 138.4,702.1 139.7,702.9 141,703.7 142.2,704.5 143.5,705.3 144.8,706.1 146,706.9 147.3,707.7 148.6,708.5 149.8,709.3 151.1,710 152.4,710.8 153.7,711.6 154.9,712.3 156.2,713.1 157.5,713.8 158.7,714.6 160,715.3 161.3,716 162.5,716.8 163.8,717.5 165.1,718.3 166.3,719 167.6,719.7 168.9,720.4 170.2,721.1 171.4,721.8 172.7,722.4 174,723 175.2,723.6 176.5,724.2 177.8,724.8 179,725.4 180.3,726 181.6,726.6 182.8,727.1 184.1,727.7 185.4,728.2 186.7,728.7 187.9,729.2 189.2,729.7 190.5,730.2 191.7,730.6 193,731.1 194.3,731.5 195.5,732 196.8,732.4 198.1,732.8 199.3,733.2 200.6,733.7 201.9,734.1 203.2,734.5 204.4,734.8 205.7,735.2 207,735.6 208.2,736 209.5,736.3 210.8,736.7 212,737 213.3,737.4 214.6,737.7 215.8,738 217.1,738.3 218.4,738.6 219.7,738.9 220.9,739.2 222.2,739.5 223.5,739.8 224.7,740.1 226,740.4 227.3,740.6 228.5,740.9 229.8,741.2 231.1,741.4 232.3,741.7 233.6,741.9 234.9,742.2 236.2,742.5 237.4,742.7 238.7,743 240,743.2 241.2,743.5 242.5,743.8 243.8,744 245,744.3 246.3,744.5 247.6,744.8 248.8,745 250.1,745.3 251.4,745.5 252.7,745.8 253.9,746 255.2,746.3 256.5,746.5 257.7,746.8 259,747 260.3,747.3 261.5,747.5 262.8,747.8 264.1,748 265.3,748.3 266.6,748.5 267.9,748.8 269.2,749 270.4,749.3 271.7,749.5 273,749.8 274.2,750 275.5,750.2 276.8,750.5 278,750.7 279.3,751 280.6,751.2 281.8,751.4 283.1,751.7 284.4,751.9 285.7,752.1 286.9,752.3 288.2,752.6 289.5,752.8 290.7,753 292,753.2 293.3,753.4 294.5,753.6 295.8,753.8 297.1,754 298.3,754.2 299.6,754.4 300.9,754.6 302.2,754.8 303.4,755 304.7,755.2 306,755.4 307.2,755.6 308.5,755.8 309.8,756 311,756.1 312.3,756.3 313.6,756.5 314.8,756.7 316.1,756.9 317.4,757.1 318.7,757.2 319.9,757.4 321.2,757.6 322.5,757.7 323.7,757.9 325,758.1 326.3,758.2 327.5,758.4 328.8,758.6 330.1,758.7 331.3,758.9 332.6,759 333.9,759.2 335.2,759.3 336.4,759.5 337.7,759.6 339,759.7 340.2,759.9 341.5,760 342.8,760.1 344,760.3 345.3,760.4 346.6,760.5 347.8,760.7 349.1,760.8 350.4,760.9 351.7,761 352.9,761.1 354.2,761.2 355.5,761.4 356.7,761.5 358,761.6 359.3,761.7 360.5,761.8 361.8,761.9 363.1,762 364.3,762.1 365.6,762.2 366.9,762.3 368.2,762.4 369.4,762.5 370.7,762.6 372,762.7 373.2,762.8 374.5,762.9 375.8,763 377,763.1 378.3,763.1 379.6,763.2 380.8,763.3 382.1,763.4 383.4,763.5 384.7,763.6 385.9,763.6 387.2,763.7 388.5,763.8 389.7,763.9 391,764 392.3,764 393.5,764.1 394.8,764.2 396.1,764.3 397.3,764.3 398.6,764.4 399.9,764.5 401.2,764.6 402.4,764.6 403.7,764.7 405,764.8 406.2,764.8 407.5,764.9 408.8,765 410,765 411.3,765.1 412.6,765.2 413.8,765.2 415.1,765.3 416.4,765.3 417.7,765.4 418.9,765.5 420.2,765.5 421.5,765.6 422.7,765.6 424,765.7 425.3,765.7 426.5,765.8 427.8,765.8 429.1,765.9 430.3,765.9 431.6,766 432.9,766 434.2,766.1 435.4,766.1 436.7,766.2 438,766.2 439.2,766.3 440.5,766.3 441.8,766.3 443,766.4 444.3,766.4 445.6,766.5 446.8,766.5 448.1,766.6 449.4,766.6 450.7,766.6 451.9,766.7 453.2,766.7 454.5,766.7 455.7,766.8 457,766.8" fill="none" stroke="#2323d2" stroke-width="1.6" stroke-linejoin="round" />
<polyline points="78,808 78.1,806.8 78.2,805.6 78.3,804.4 78.4,803.2 78.5,801.9 78.6,800.7 78.7,799.5 78.8,798.3 78.9,797.1 79,795.9 79.1,794.7 79.2,793.5 79.3,792.3 79.4,791.1 79.5,789.8 79.7,788.6 79.8,787.4 79.9,786.2 80,785 80.1,783.8 80.2,782.6 80.4,781.4 80.5,780.2 80.6,779 80.7,777.8 80.9,776.5 81,775.3 81.1,774.1 81.2,772.9 81.4,771.7 81.5,770.5 81.6,769.3 81.8,768.1 81.9,766.9 82.1,765.7 82.2,764.5 82.3,763.3 82.5,762.1 82.6,760.8 82.8,759.6 82.9,758.4 83.1,757.2 83.2,756 83.4,754.8 83.5,753.6 83.7,752.4 83.9,751.2 84,750 84.2,748.8 84.3,747.6 84.5,746.4 84.7,745.2 84.8,744 85,742.8 85.2,741.6 85.3,740.4 85.5,739.2 85.7,738 85.9,736.8 86.1,735.6 86.3,734.4 86.5,733.2 86.7,732 86.9,730.8 87.1,729.6 87.3,728.4 87.6,727.2 87.8,726 88,724.8 88.3,723.6 88.6,722.4 88.8,721.2 89.1,720.1 89.4,718.9 89.7,717.7 90.1,716.5 90.4,715.4 90.7,714.2 91.1,713 91.4,711.9 91.8,710.7 92.2,709.6 92.6,708.4 93.1,707.3 93.5,706.2 94,705 94.5,703.9 94.9,702.8 95.4,701.7 96,700.6 96.5,699.5 97,698.4 97.6,697.3 98.2,696.3 98.8,695.2 99.4,694.2 100,693.1 100.7,692.1 101.3,691 102,690 102.8,689 103.5,688.1 104.2,687.1 105,686.2 105.8,685.3 106.6,684.4 107.5,683.5 108.4,682.6 109.3,681.8 110.3,681 111.2,680.3 112.2,679.7 113.2,679.1 114.3,678.6 115.4,678 116.5,677.5 117.7,677.1 118.9,676.7 120.1,676.3 121.2,676 122.4,675.8 123.6,675.6 124.8,675.4 126,675.2 127.2,675.1 128.4,674.9 129.6,674.8 130.8,674.7 132.1,674.6 133.3,674.5 134.5,674.5 135.7,674.5 136.9,674.5 138.1,674.6 139.3,674.7 140.6,674.8 141.8,674.9 143,675 144.2,675.1 145.4,675.3 146.6,675.4 147.8,675.5 149,675.7 150.2,675.8 151.4,676 152.6,676.2 153.8,676.4 155,676.6 156.2,676.8 157.4,677 158.6,677.2 159.8,677.5 161,677.7 162.2,677.9 163.4,678.2 164.6,678.4 165.8,678.7 167,678.9 168.1,679.2 169.3,679.5 170.5,679.7 171.7,680 172.9,680.3 174.1,680.6 175.2,680.9 176.4,681.2 177.6,681.5 178.8,681.8 179.9,682.1 181.1,682.4 182.3,682.8 183.4,683.1 184.6,683.4 185.8,683.7 187,684 188.1,684.3 189.3,684.6 190.5,684.9 191.7,685.2 192.9,685.5 194,685.8 195.2,686.1 196.4,686.4 197.6,686.7 198.8,687 199.9,687.2 201.1,687.5 202.3,687.8 203.5,688.1 204.7,688.4 205.9,688.6 207.1,688.9 208.2,689.1 209.4,689.4 210.6,689.6 211.8,689.9 213,690.1 214.2,690.3 215.4,690.6 216.6,690.8 217.8,691 219,691.2 220.2,691.4 221.4,691.6 222.6,691.8 223.8,692 225,692.2 226.2,692.3 227.4,692.5 228.6,692.7 229.8,692.9 231,693 232.2,693.2 233.4,693.4 234.6,693.6 235.8,693.7 237,693.9 238.2,694.1 239.4,694.2 240.6,694.4 241.8,694.5 243,694.7 244.2,694.9 245.4,695 246.6,695.2 247.8,695.3 249,695.4 250.3,695.6 251.5,695.7 252.7,695.9 253.9,696 255.1,696.2 256.3,696.3 257.5,696.5 258.7,696.6 259.9,696.8 261.1,696.9 262.3,697.1 263.5,697.3 264.7,697.4 265.9,697.6 267.1,697.8 268.3,697.9 269.5,698.1 270.7,698.3 271.9,698.5 273.1,698.6 274.3,698.8 275.5,699 276.7,699.2 277.9,699.3 279.1,699.5 280.3,699.7 281.6,699.8 282.8,700 284,700.2 285.2,700.3 286.4,700.5 287.6,700.6 288.8,700.8 290,701 291.2,701.1 292.4,701.3 293.6,701.4 294.8,701.6 296,701.8 297.2,701.9 298.4,702.1 299.6,702.2 300.8,702.4 302,702.5 303.2,702.7 304.4,702.8 305.6,703 306.9,703.1 308.1,703.3 309.3,703.4 310.5,703.6 311.7,703.7 312.9,703.8 314.1,704 315.3,704.1 316.5,704.3 317.7,704.4 318.9,704.5 320.1,704.7 321.3,704.8 322.5,704.9 323.7,705.1 325,705.2 326.2,705.3 327.4,705.5 328.6,705.6 329.8,705.7 331,705.8 332.2,706 333.4,706.1 334.6,706.2 335.8,706.3 337,706.5 338.2,706.6 339.5,706.7 340.7,706.8 341.9,706.9 343.1,707.1 344.3,707.2 345.5,707.3 346.7,707.4 347.9,707.5 349.1,707.6 350.3,707.8 351.6,707.9 352.8,708 354,708.1 355.2,708.2 356.4,708.3 357.6,708.4 358.8,708.5 360,708.6 361.2,708.7 362.4,708.8 363.7,708.9 364.9,709 366.1,709.1 367.3,709.2 368.5,709.3 369.7,709.4 370.9,709.5 372.1,709.5 373.3,709.6 374.6,709.7 375.8,709.8 377,709.9 378.2,710 379.4,710.1 380.6,710.1 381.8,710.2 383,710.3 384.3,710.4 385.5,710.5 386.7,710.6 387.9,710.7 389.1,710.7 390.3,710.8 391.5,710.9 392.7,711 393.9,711.1 395.2,711.2 396.4,711.2 397.6,711.3 398.8,711.4 400,711.5 401.2,711.6 402.4,711.7 403.6,711.7 404.9,711.8 406.1,711.9 407.3,712 408.5,712.1 409.7,712.1 410.9,712.2 412.1,712.3 413.3,712.4 414.6,712.5 415.8,712.5 417,712.6 418.2,712.7 419.4,712.8 420.6,712.8 421.8,712.9 423,713 424.3,713.1 425.5,713.1 426.7,713.2 427.9,713.3 429.1,713.4 430.3,713.4 431.5,713.5 432.7,713.6 434,713.7 435.2,713.7 436.4,713.8 437.6,713.9 438.8,714 440,714 441.2,714.1 442.4,714.2 443.7,714.2 444.9,714.3 446.1,714.4 447.3,714.5 448.5,714.5 449.7,714.6 450.9,714.7 452.1,714.7 453.4,714.8 454.6,714.9 455.8,714.9 457,715" fill="none" stroke="#2323d2" stroke-width="1.6" stroke-linejoin="round" />
<polyline points="77.5,461 78.8,461.1 80,461.2 81.3,461.4 82.6,461.6 83.8,461.9 85.1,462.3 86.4,462.7 87.7,463.3 88.9,464 90.2,464.8 91.5,465.8 92.7,466.8 94,467.8 95.3,468.8 96.5,469.8 97.8,470.9 99.1,472.1 100.3,473.3 101.6,474.7 102.9,476.2 104.2,477.7 105.4,479.3 106.7,481 108,482.6 109.2,484.3 110.5,485.9 111.8,487.5 113,489.1 114.3,490.6 115.6,492.2 116.8,493.7 118.1,495.2 119.4,496.8 120.7,498.3 121.9,499.8 123.2,501.2 124.5,502.7 125.7,504.1 127,505.5 128.3,507 129.5,508.4 130.8,509.7 132.1,511.1 133.3,512.4 134.6,513.7 135.9,514.9 137.2,516.1 138.4,517.3 139.7,518.4 141,519.5 142.2,520.6 143.5,521.6 144.8,522.6 146,523.6 147.3,524.6 148.6,525.6 149.8,526.5 151.1,527.4 152.4,528.3 153.7,529.1 154.9,530 156.2,530.8 157.5,531.6 158.7,532.4 160,533.2 161.3,534 162.5,534.8 163.8,535.5 165.1,536.2 166.3,537 167.6,537.7 168.9,538.3 170.2,539 171.4,539.7 172.7,540.3 174,541 175.2,541.6 176.5,542.3 177.8,542.9 179,543.5 180.3,544.2 181.6,544.8 182.8,545.4 184.1,546 185.4,546.7 186.7,547.3 187.9,547.9 189.2,548.5 190.5,549.1 191.7,549.7 193,550.3 194.3,550.9 195.5,551.5 196.8,552.1 198.1,552.7 199.3,553.3 200.6,553.9 201.9,554.5 203.2,555 204.4,555.6 205.7,556.2 207,556.8 208.2,557.4 209.5,557.9 210.8,558.5 212,559 213.3,559.6 214.6,560.1 215.8,560.6 217.1,561.2 218.4,561.7 219.7,562.2 220.9,562.7 222.2,563.1 223.5,563.6 224.7,564.1 226,564.5 227.3,565 228.5,565.5 229.8,565.9 231.1,566.3 232.3,566.8 233.6,567.2 234.9,567.6 236.2,568 237.4,568.5 238.7,568.9 240,569.3 241.2,569.6 242.5,570 243.8,570.4 245,570.8 246.3,571.1 247.6,571.5 248.8,571.8 250.1,572.2 251.4,572.5 252.7,572.8 253.9,573.2 255.2,573.5 256.5,573.8 257.7,574.1 259,574.4 260.3,574.7 261.5,575 262.8,575.3 264.1,575.6 265.3,575.9 266.6,576.2 267.9,576.4 269.2,576.7 270.4,577 271.7,577.3 273,577.5 274.2,577.8 275.5,578 276.8,578.3 278,578.5 279.3,578.8 280.6,579 281.8,579.3 283.1,579.5 284.4,579.7 285.7,580 286.9,580.2 288.2,580.4 289.5,580.7 290.7,580.9 292,581.1 293.3,581.3 294.5,581.6 295.8,581.8 297.1,582 298.3,582.2 299.6,582.4 300.9,582.7 302.2,582.9 303.4,583.1 304.7,583.3 306,583.5 307.2,583.7 308.5,583.9 309.8,584.1 311,584.3 312.3,584.5 313.6,584.7 314.8,584.9 316.1,585.1 317.4,585.3 318.7,585.5 319.9,585.7 321.2,585.9 322.5,586.1 323.7,586.3 325,586.5 326.3,586.7 327.5,586.9 328.8,587.1 330.1,587.2 331.3,587.4 332.6,587.6 333.9,587.8 335.2,588 336.4,588.2 337.7,588.4 339,588.6 340.2,588.8 341.5,589 342.8,589.2 344,589.4 345.3,589.6 346.6,589.8 347.8,590 349.1,590.2 350.4,590.4 351.7,590.6 352.9,590.7 354.2,590.9 355.5,591.1 356.7,591.3 358,591.5 359.3,591.7 360.5,591.9 361.8,592.1 363.1,592.3 364.3,592.5 365.6,592.7 366.9,592.9 368.2,593.1 369.4,593.3 370.7,593.5 372,593.7 373.2,593.9 374.5,594 375.8,594.2 377,594.4 378.3,594.6 379.6,594.8 380.8,595 382.1,595.2 383.4,595.3 384.7,595.5 385.9,595.7 387.2,595.9 388.5,596 389.7,596.2 391,596.4 392.3,596.6 393.5,596.7 394.8,596.9 396.1,597.1 397.3,597.2 398.6,597.4 399.9,597.6 401.2,597.7 402.4,597.9 403.7,598 405,598.2 406.2,598.3 407.5,598.5 408.8,598.7 410,598.8 411.3,599 412.6,599.1 413.8,599.3 415.1,599.4 416.4,599.6 417.7,599.7 418.9,599.9 420.2,600 421.5,600.2 422.7,600.3 424,600.5 425.3,600.6 426.5,600.8 427.8,600.9 429.1,601 430.3,601.2 431.6,601.3 432.9,601.5 434.2,601.6 435.4,601.7 436.7,601.9 438,602 439.2,602.2 440.5,602.3 441.8,602.4 443,602.6 444.3,602.7 445.6,602.8 446.8,603 448.1,603.1 449.4,603.2 450.7,603.4 451.9,603.5 453.2,603.6 454.5,603.7 455.7,603.9 457,604" fill="none" stroke="#000" stroke-width="1.6" stroke-linejoin="round" />
<polyline points="77.5,461 78.8,461.1 80,461.3 81.3,461.6 82.6,462 83.8,462.4 85.1,463 86.4,463.7 87.7,464.3 88.9,465.1 90.2,465.9 91.5,466.8 92.7,467.8 94,468.8 95.3,469.8 96.5,471 97.8,472.1 99.1,473.3 100.3,474.6 101.6,475.9 102.9,477.4 104.2,478.8 105.4,480.3 106.7,481.9 108,483.5 109.2,485.1 110.5,486.6 111.8,488.2 113,489.8 114.3,491.4 115.6,493 116.8,494.6 118.1,496.3 119.4,497.9 120.7,499.5 121.9,501.2 123.2,502.8 124.5,504.3 125.7,505.9 127,507.4 128.3,508.9 129.5,510.4 130.8,511.9 132.1,513.4 133.3,514.9 134.6,516.3 135.9,517.7 137.2,519.2 138.4,520.6 139.7,522 141,523.4 142.2,524.8 143.5,526.2 144.8,527.5 146,528.9 147.3,530.2 148.6,531.5 149.8,532.8 151.1,534.1 152.4,535.4 153.7,536.6 154.9,537.9 156.2,539.1 157.5,540.3 158.7,541.5 160,542.7 161.3,543.8 162.5,545 163.8,546.1 165.1,547.2 166.3,548.3 167.6,549.4 168.9,550.4 170.2,551.5 171.4,552.5 172.7,553.6 174,554.6 175.2,555.7 176.5,556.8 177.8,557.8 179,558.9 180.3,560 181.6,561.1 182.8,562.2 184.1,563.3 185.4,564.4 186.7,565.5 187.9,566.5 189.2,567.6 190.5,568.6 191.7,569.6 193,570.5 194.3,571.5 195.5,572.4 196.8,573.3 198.1,574.2 199.3,575 200.6,575.9 201.9,576.7 203.2,577.6 204.4,578.4 205.7,579.2 207,580 208.2,580.8 209.5,581.6 210.8,582.3 212,583.1 213.3,583.8 214.6,584.5 215.8,585.3 217.1,586 218.4,586.6 219.7,587.3 220.9,588 222.2,588.6 223.5,589.3 224.7,589.9 226,590.5 227.3,591.1 228.5,591.8 229.8,592.4 231.1,592.9 232.3,593.5 233.6,594.1 234.9,594.6 236.2,595.2 237.4,595.7 238.7,596.3 240,596.8 241.2,597.3 242.5,597.8 243.8,598.3 245,598.8 246.3,599.2 247.6,599.7 248.8,600.1 250.1,600.6 251.4,601 252.7,601.4 253.9,601.9 255.2,602.3 256.5,602.7 257.7,603.1 259,603.5 260.3,603.8 261.5,604.2 262.8,604.6 264.1,605 265.3,605.4 266.6,605.7 267.9,606.1 269.2,606.5 270.4,606.9 271.7,607.2 273,607.6 274.2,608 275.5,608.3 276.8,608.7 278,609.1 279.3,609.4 280.6,609.8 281.8,610.1 283.1,610.4 284.4,610.8 285.7,611.1 286.9,611.5 288.2,611.8 289.5,612.2 290.7,612.5 292,612.8 293.3,613.2 294.5,613.5 295.8,613.9 297.1,614.2 298.3,614.5 299.6,614.9 300.9,615.2 302.2,615.5 303.4,615.9 304.7,616.2 306,616.5 307.2,616.8 308.5,617.2 309.8,617.5 311,617.8 312.3,618.1 313.6,618.4 314.8,618.7 316.1,619 317.4,619.3 318.7,619.6 319.9,619.9 321.2,620.2 322.5,620.5 323.7,620.8 325,621.1 326.3,621.3 327.5,621.6 328.8,621.9 330.1,622.2 331.3,622.5 332.6,622.7 333.9,623 335.2,623.3 336.4,623.5 337.7,623.8 339,624.1 340.2,624.3 341.5,624.6 342.8,624.9 344,625.1 345.3,625.4 346.6,625.7 347.8,625.9 349.1,626.2 350.4,626.4 351.7,626.7 352.9,627 354.2,627.2 355.5,627.5 356.7,627.7 358,628 359.3,628.2 360.5,628.4 361.8,628.7 363.1,628.9 364.3,629.1 365.6,629.4 366.9,629.6 368.2,629.8 369.4,630 370.7,630.2 372,630.5 373.2,630.7 374.5,630.9 375.8,631.1 377,631.3 378.3,631.5 379.6,631.7 380.8,631.9 382.1,632.1 383.4,632.3 384.7,632.5 385.9,632.7 387.2,632.9 388.5,633 389.7,633.2 391,633.4 392.3,633.5 393.5,633.7 394.8,633.9 396.1,634 397.3,634.2 398.6,634.3 399.9,634.4 401.2,634.6 402.4,634.7 403.7,634.9 405,635 406.2,635.1 407.5,635.3 408.8,635.4 410,635.5 411.3,635.7 412.6,635.8 413.8,635.9 415.1,636 416.4,636.2 417.7,636.3 418.9,636.4 420.2,636.5 421.5,636.6 422.7,636.8 424,636.9 425.3,637 426.5,637.1 427.8,637.2 429.1,637.3 430.3,637.4 431.6,637.5 432.9,637.7 434.2,637.8 435.4,637.9 436.7,638 438,638.1 439.2,638.2 440.5,638.3 441.8,638.4 443,638.5 444.3,638.6 445.6,638.7 446.8,638.8 448.1,638.9 449.4,639 450.7,639.1 451.9,639.2 453.2,639.2 454.5,639.3 455.7,639.4 457,639.5" fill="none" stroke="#2323d2" stroke-width="1.6" stroke-linejoin="round" />
<polyline points="77.5,461 77.8,462.4 78,463.8 78.2,465.1 78.5,466.5 78.7,467.9 78.9,469.3 79.1,470.7 79.3,472.1 79.4,473.4 79.6,474.8 79.7,476.2 79.9,477.6 80,479 80.1,480.4 80.3,481.8 80.4,483.2 80.5,484.6 80.6,486 80.8,487.4 80.9,488.8 81,490.2 81.2,491.6 81.3,493 81.4,494.3 81.6,495.7 81.7,497.1 81.9,498.5 82,499.9 82.2,501.3 82.3,502.7 82.4,504.1 82.6,505.5 82.7,506.9 82.9,508.3 83,509.7 83.2,511.1 83.4,512.4 83.5,513.8 83.7,515.2 83.8,516.6 84,518 84.2,519.4 84.3,520.8 84.5,522.2 84.7,523.6 84.9,525 85,526.3 85.2,527.7 85.4,529.1 85.6,530.5 85.8,531.9 86,533.3 86.2,534.7 86.4,536.1 86.6,537.4 86.8,538.8 87,540.2 87.3,541.6 87.5,542.9 87.8,544.3 88.1,545.7 88.3,547.1 88.6,548.4 88.9,549.8 89.2,551.2 89.5,552.5 89.9,553.9 90.2,555.3 90.5,556.6 90.8,558 91.2,559.3 91.5,560.7 91.8,562.1 92.1,563.4 92.5,564.8 92.8,566.2 93.1,567.5 93.4,568.9 93.7,570.2 94.1,571.6 94.4,573 94.7,574.3 95.1,575.7 95.4,577 95.7,578.4 96.1,579.8 96.4,581.1 96.8,582.5 97.1,583.8 97.5,585.2 97.8,586.5 98.2,587.9 98.5,589.2 98.9,590.6 99.3,591.9 99.7,593.3 100,594.6 100.4,596 100.8,597.3 101.2,598.7 101.6,600 102,601.3 102.4,602.7 102.8,604 103.3,605.4 103.7,606.7 104.1,608 104.5,609.4 104.9,610.7 105.3,612.1 105.7,613.4 106.2,614.7 106.6,616.1 107,617.4 107.4,618.7 107.8,620.1 108.2,621.4 108.7,622.7 109.1,624.1 109.5,625.4 109.9,626.8 110.4,628.1 110.8,629.4 111.2,630.7 111.7,632.1 112.1,633.4 112.6,634.7 113,636 113.5,637.4 114,638.7 114.5,640 115,641.3 115.5,642.6 116,643.9 116.5,645.2 117,646.5 117.5,647.8 118.1,649.1 118.6,650.4 119.2,651.7 119.7,653 120.3,654.2 121,655.5 121.6,656.7 122.2,658 122.9,659.2 123.6,660.4 124.3,661.6 125,662.9 125.7,664.1 126.4,665.3 127.2,666.5 127.9,667.6 128.7,668.8 129.4,670 130.2,671.1 131,672.3 131.8,673.4 132.7,674.6 133.5,675.7 134.4,676.8 135.3,677.8 136.2,678.9 137.1,679.9 138.1,681 139,682 140,683 141,684 142.1,685 143.1,685.9 144.2,686.8 145.2,687.7 146.3,688.5 147.5,689.4 148.6,690.2 149.8,691 151,691.8 152.2,692.5 153.4,693.2 154.6,693.8 155.9,694.4 157.2,694.9 158.5,695.4 159.8,695.9 161.1,696.3 162.5,696.8 163.8,697.2 165.2,697.5 166.5,697.9 167.9,698.2 169.2,698.6 170.6,698.9 172,699.2 173.3,699.5 174.7,699.8 176.1,700 177.5,700.3 178.8,700.5 180.2,700.8 181.6,701 183,701.2 184.4,701.4 185.8,701.6 187.2,701.8 188.5,702 189.9,702.3 191.3,702.6 192.6,702.9 194,703.2 195.3,703.6 196.7,704 198,704.3 199.4,704.8 200.7,705.2 202,705.6 203.4,706 204.7,706.5 206,706.9 207.4,707.3 208.7,707.7 210.1,708.1 211.4,708.5 212.8,708.9 214.1,709.3 215.5,709.6 216.8,710 218.2,710.3 219.5,710.6 220.9,710.9 222.3,711.3 223.6,711.6 225,711.9 226.4,712.2 227.7,712.5 229.1,712.8 230.5,713.1 231.8,713.4 233.2,713.7 234.6,714 236,714.2 237.3,714.5 238.7,714.8 240.1,715 241.4,715.3 242.8,715.5 244.2,715.7 245.6,716 247,716.2 248.3,716.4 249.7,716.6 251.1,716.8 252.5,717 253.9,717.2 255.3,717.4 256.7,717.6 258,717.8 259.4,718 260.8,718.2 262.2,718.4 263.6,718.6 265,718.8 266.4,719 267.8,719.2 269.1,719.4 270.5,719.6 271.9,719.8 273.3,720 274.7,720.2 276.1,720.3 277.5,720.5 278.8,720.7 280.2,720.9 281.6,721.1 283,721.3 284.4,721.5 285.8,721.7 287.2,721.9 288.6,722 289.9,722.2 291.3,722.4 292.7,722.6 294.1,722.8 295.5,722.9 296.9,723.1 298.3,723.3 299.7,723.5 301.1,723.6 302.4,723.8 303.8,724 305.2,724.1 306.6,724.3 308,724.5 309.4,724.6 310.8,724.8 312.2,725 313.6,725.1 315,725.3 316.3,725.4 317.7,725.6 319.1,725.8 320.5,725.9 321.9,726.1 323.3,726.2 324.7,726.4 326.1,726.5 327.5,726.7 328.9,726.9 330.2,727 331.6,727.2 333,727.4 334.4,727.5 335.8,727.7 337.2,727.9 338.6,728 340,728.2 341.4,728.4 342.8,728.5 344.1,728.7 345.5,728.8 346.9,729 348.3,729.2 349.7,729.3 351.1,729.5 352.5,729.7 353.9,729.8 355.3,730 356.7,730.1 358.1,730.3 359.4,730.4 360.8,730.6 362.2,730.7 363.6,730.9 365,731 366.4,731.2 367.8,731.3 369.2,731.5 370.6,731.6 372,731.7 373.4,731.9 374.8,732 376.2,732.1 377.5,732.3 378.9,732.4 380.3,732.5 381.7,732.7 383.1,732.8 384.5,733 385.9,733.1 387.3,733.2 388.7,733.4 390.1,733.5 391.5,733.6 392.9,733.8 394.3,733.9 395.7,734.1 397,734.2 398.4,734.4 399.8,734.5 401.2,734.6 402.6,734.8 404,734.9 405.4,735.1 406.8,735.2 408.2,735.4 409.6,735.5 411,735.6 412.4,735.8 413.8,735.9 415.2,736 416.5,736.2 417.9,736.3 419.3,736.4 420.7,736.6 422.1,736.7 423.5,736.8 424.9,736.9 426.3,737.1 427.7,737.2 429.1,737.3 430.5,737.4 431.9,737.5 433.3,737.7 434.7,737.8 436.1,737.9 437.5,738 438.9,738.1 440.3,738.2 441.6,738.3 443,738.5 444.4,738.6 445.8,738.7 447.2,738.8 448.6,738.9 450,739 451.4,739.1 452.8,739.2 454.2,739.3 455.6,739.4 457,739.5" fill="none" stroke="#000" stroke-width="1.6" stroke-linejoin="round" />
<polyline points="78,808 78.1,807.1 78.3,806.2 78.4,805.2 78.6,804.3 78.8,803.4 78.9,802.5 79.1,801.6 79.2,800.6 79.4,799.7 79.5,798.8 79.7,797.9 79.9,797 80,796.1 80.2,795.1 80.4,794.2 80.6,793.3 80.7,792.4 80.9,791.5 81.1,790.6 81.3,789.6 81.4,788.7 81.6,787.8 81.8,786.9 82,786 82.2,785.1 82.4,784.2 82.5,783.2 82.7,782.3 82.9,781.4 83.1,780.5 83.3,779.6 83.5,778.7 83.7,777.8 83.9,776.9 84.1,776 84.3,775.1 84.6,774.2 84.8,773.2 85,772.3 85.2,771.4 85.4,770.5 85.6,769.6 85.9,768.7 86.1,767.8 86.3,766.9 86.5,766 86.7,765.1 87,764.2 87.2,763.3 87.4,762.4 87.6,761.5 87.9,760.6 88.1,759.7 88.3,758.7 88.5,757.8 88.7,756.9 89,756 89.2,755.1 89.4,754.2 89.6,753.3 89.8,752.4 90,751.5 90.3,750.6 90.5,749.7 90.7,748.8 90.9,747.8 91.1,746.9 91.4,746 91.6,745.1 91.8,744.2 92.1,743.3 92.3,742.4 92.6,741.5 92.8,740.6 93.1,739.7 93.3,738.8 93.6,738 93.9,737.1 94.1,736.2 94.4,735.3 94.7,734.4 95,733.6 95.3,732.7 95.7,731.8 96,730.9 96.3,730.1 96.7,729.2 97,728.3 97.4,727.5 97.7,726.6 98.1,725.7 98.5,724.9 98.8,724 99.2,723.2 99.6,722.3 100,721.5 100.4,720.6 100.8,719.8 101.2,718.9 101.6,718.1 102,717.3 102.4,716.4 102.9,715.6 103.3,714.8 103.8,714 104.2,713.2 104.7,712.4 105.2,711.6 105.6,710.8 106.1,709.9 106.6,709.1 107.1,708.3 107.6,707.5 108.1,706.8 108.5,706 109,705.1 109.5,704.3 109.9,703.5 110.4,702.6 110.8,701.8 111.3,701 111.8,700.2 112.4,699.5 112.9,698.8 113.6,698.2 114.2,697.5 114.9,696.9 115.6,696.3 116.4,695.7 117.2,695.1 118,694.6 118.8,694.1 119.6,693.6 120.4,693.2 121.2,692.8 122.1,692.4 122.9,692.1 123.8,691.7 124.7,691.4 125.6,691.2 126.5,690.9 127.4,690.8 128.3,690.6 129.3,690.5 130.2,690.4 131.1,690.2 132.1,690.1 133,690.1 133.9,690 134.9,690 135.8,690 136.7,690 137.6,690.1 138.6,690.1 139.5,690.1 140.4,690.2 141.4,690.2 142.3,690.3 143.2,690.4 144.2,690.5 145.1,690.6 146,690.7 146.9,690.9 147.9,691.1 148.8,691.2 149.7,691.4 150.6,691.6 151.5,691.9 152.4,692.1 153.3,692.4 154.1,692.7 155,693 155.9,693.3 156.8,693.6 157.7,694 158.5,694.3 159.4,694.6 160.3,694.9 161.2,695.2 162.1,695.5 162.9,695.8 163.8,696.2 164.7,696.5 165.6,696.8 166.4,697.1 167.3,697.5 168.2,697.8 169,698.1 169.9,698.5 170.8,698.8 171.6,699.2 172.5,699.5 173.4,699.9 174.2,700.3 175.1,700.7 175.9,701.1 176.8,701.4 177.6,701.8 178.5,702.1 179.4,702.4 180.3,702.7 181.2,702.9 182.1,703.2 183,703.4 183.9,703.6 184.8,703.8 185.7,704 186.6,704.2 187.5,704.4 188.4,704.6 189.3,704.8 190.2,705.1 191.2,705.3 192.1,705.5 193,705.7 193.9,705.9 194.8,706.1 195.7,706.3 196.6,706.6 197.5,706.8 198.4,707 199.3,707.2 200.2,707.4 201.1,707.6 202.1,707.8 203,708 203.9,708.2 204.8,708.4 205.7,708.6 206.6,708.8 207.5,709 208.4,709.2 209.3,709.4 210.3,709.6 211.2,709.7 212.1,709.9 213,710.1 213.9,710.2 214.8,710.4 215.8,710.6 216.7,710.7 217.6,710.9 218.5,711.1 219.4,711.2 220.3,711.4 221.3,711.5 222.2,711.7 223.1,711.8 224,712 224.9,712.1 225.9,712.3 226.8,712.4 227.7,712.6 228.6,712.8 229.5,712.9 230.5,713.1 231.4,713.2 232.3,713.4 233.2,713.6 234.1,713.7 235,713.9 236,714.1 236.9,714.2 237.8,714.4 238.7,714.5 239.6,714.7 240.6,714.9 241.5,715 242.4,715.2 243.3,715.4 244.2,715.5 245.1,715.7 246.1,715.8 247,716 247.9,716.2 248.8,716.3 249.7,716.5 250.7,716.6 251.6,716.8 252.5,716.9 253.4,717.1 254.3,717.2 255.3,717.4 256.2,717.5 257.1,717.6 258,717.8 258.9,717.9 259.9,718.1 260.8,718.2 261.7,718.4 262.6,718.5 263.5,718.6 264.5,718.8 265.4,718.9 266.3,719.1 267.2,719.2 268.2,719.3 269.1,719.5 270,719.6" fill="none" stroke="#000" stroke-width="1.6" stroke-linejoin="round" />
<polyline points="78,808 78.2,806.6 78.4,805.1 78.7,803.7 78.9,802.2 79.2,800.8 79.4,799.4 79.7,798 80,796.5 80.3,795.1 80.6,793.7 80.9,792.3 81.2,790.8 81.5,789.4 81.8,788 82.1,786.6 82.5,785.2 82.8,783.8 83.2,782.4 83.5,781 83.9,779.6 84.2,778.1 84.6,776.7 85,775.3 85.4,773.9 85.8,772.5 86.2,771.1 86.7,769.7 87.1,768.4 87.6,767 88,765.6 88.5,764.2 89,762.8 89.5,761.5 90,760.1 90.5,758.8 91,757.4 91.6,756.1 92.1,754.7 92.7,753.4 93.3,752.1 94,750.8 94.6,749.5 95.3,748.2 96,746.9 96.8,745.7 97.5,744.5 98.3,743.2 99.2,742 100,740.8 100.9,739.6 101.8,738.4 102.8,737.3 103.7,736.2 104.7,735.2 105.8,734.3 106.8,733.4 108,732.5 109.2,731.6 110.4,730.8 111.7,730 112.9,729.2 114.2,728.6 115.5,727.9 116.8,727.3 118.2,726.8 119.5,726.2 120.9,725.7 122.3,725.3 123.7,724.8 125.1,724.5 126.5,724.1 127.9,723.8 129.3,723.5 130.8,723.2 132.2,722.9 133.6,722.6 135.1,722.5 136.5,722.3 138,722.3 139.4,722.3 140.9,722.3 142.3,722.4 143.8,722.4 145.2,722.4 146.7,722.5 148.1,722.5 149.6,722.6 151,722.6 152.5,722.7 153.9,722.8 155.4,722.9 156.8,723 158.3,723.1 159.7,723.2 161.2,723.3 162.6,723.4 164.1,723.5 165.5,723.6 167,723.7 168.4,723.8 169.9,723.9 171.3,724 172.8,724.1 174.2,724.2 175.7,724.3 177.1,724.4 178.6,724.5 180,724.6 181.5,724.7 182.9,724.8 184.4,724.9 185.8,725 187.3,725.1 188.7,725.2 190.2,725.3 191.6,725.4 193.1,725.5 194.5,725.6 196,725.7 197.4,725.8 198.9,725.8 200.3,725.9 201.8,726 203.2,726.1 204.7,726.2 206.1,726.3 207.6,726.4 209,726.4 210.5,726.5 211.9,726.6 213.4,726.7 214.8,726.8 216.3,726.9 217.7,727 219.2,727 220.6,727.1 222.1,727.2 223.5,727.3 225,727.4 226.4,727.5 227.9,727.5 229.3,727.6 230.8,727.7 232.2,727.8 233.7,727.9 235.1,728 236.6,728.1 238,728.2 239.5,728.3 240.9,728.4 242.4,728.5 243.8,728.6 245.3,728.7 246.7,728.8 248.2,729 249.6,729.1 251.1,729.2 252.5,729.4 254,729.5 255.4,729.6 256.9,729.8 258.3,729.9 259.7,730.1 261.2,730.2 262.6,730.3 264.1,730.5 265.5,730.6 267,730.7 268.4,730.9 269.9,731 271.3,731.1 272.8,731.2 274.2,731.3 275.7,731.5 277.1,731.6 278.6,731.7 280,731.8 281.5,731.9 282.9,732.1 284.4,732.2 285.8,732.3 287.3,732.4 288.7,732.5 290.2,732.6 291.6,732.7 293,732.8 294.5,732.9 295.9,733 297.4,733.1 298.8,733.2 300.3,733.3 301.7,733.4 303.2,733.5 304.6,733.6 306.1,733.7 307.5,733.8 309,733.8 310.4,733.9 311.9,734 313.3,734.1 314.8,734.2 316.2,734.2 317.7,734.3 319.2,734.4 320.6,734.5 322.1,734.6 323.5,734.6 325,734.7 326.4,734.8 327.9,734.9 329.3,735 330.8,735 332.2,735.1 333.7,735.2 335.1,735.3 336.6,735.4 338,735.5 339.5,735.6 340.9,735.7 342.4,735.8 343.8,735.8 345.3,735.9 346.7,736 348.2,736.1 349.6,736.2 351.1,736.3 352.5,736.4 354,736.5 355.4,736.5 356.9,736.6 358.3,736.7 359.8,736.8 361.2,736.9 362.7,736.9 364.1,737 365.6,737.1 367,737.2 368.5,737.2 369.9,737.3 371.4,737.4 372.8,737.5 374.3,737.5 375.7,737.6 377.2,737.7 378.6,737.7 380.1,737.8 381.5,737.9 383,738 384.4,738 385.9,738.1 387.3,738.2 388.8,738.2 390.2,738.3 391.7,738.4 393.1,738.5 394.6,738.5 396,738.6 397.5,738.7 398.9,738.8 400.4,738.8 401.8,738.9 403.3,739 404.7,739.1 406.2,739.1 407.6,739.2 409.1,739.3 410.5,739.4 412,739.4 413.4,739.5 414.9,739.6 416.4,739.6 417.8,739.7 419.3,739.8 420.7,739.8 422.2,739.9 423.6,740 425.1,740 426.5,740.1 428,740.1 429.4,740.2 430.9,740.3 432.3,740.3 433.8,740.4 435.2,740.4 436.7,740.5 438.1,740.5 439.6,740.6 441,740.7 442.5,740.7 443.9,740.8 445.4,740.8 446.8,740.9 448.3,740.9 449.7,741 451.2,741 452.6,741.1 454.1,741.1 455.5,741.2 457,741.2" fill="none" stroke="#000" stroke-width="1.6" stroke-linejoin="round" />
<rect x="74.3" y="457.5" width="7" height="7" rx="0.8" fill="none" stroke="#000" stroke-width="1.5"/>
<rect x="82.2" y="468.8" width="7" height="7" rx="0.8" fill="none" stroke="#000" stroke-width="1.5"/>
<rect x="89.5" y="480.2" width="7" height="7" rx="0.8" fill="none" stroke="#000" stroke-width="1.5"/>
<rect x="97.8" y="491.5" width="7" height="7" rx="0.8" fill="none" stroke="#000" stroke-width="1.5"/>
<rect x="107.2" y="502.5" width="7" height="7" rx="0.8" fill="none" stroke="#000" stroke-width="1.5"/>
<rect x="117.2" y="512.5" width="7" height="7" rx="0.8" fill="none" stroke="#000" stroke-width="1.5"/>
<rect x="127.8" y="521.5" width="7" height="7" rx="0.8" fill="none" stroke="#000" stroke-width="1.5"/>
<rect x="139.8" y="530" width="7" height="7" rx="0.8" fill="none" stroke="#000" stroke-width="1.5"/>
<rect x="152.2" y="537.5" width="7" height="7" rx="0.8" fill="none" stroke="#000" stroke-width="1.5"/>
<rect x="165.2" y="544" width="7" height="7" rx="0.8" fill="none" stroke="#000" stroke-width="1.5"/>
<rect x="178.5" y="549.8" width="7" height="7" rx="0.8" fill="none" stroke="#000" stroke-width="1.5"/>
<rect x="192.2" y="555.2" width="7" height="7" rx="0.8" fill="none" stroke="#000" stroke-width="1.5"/>
<rect x="206.5" y="559.5" width="7" height="7" rx="0.8" fill="none" stroke="#000" stroke-width="1.5"/>
<rect x="221" y="563.5" width="7" height="7" rx="0.8" fill="none" stroke="#000" stroke-width="1.5"/>
<rect x="235.2" y="567.2" width="7" height="7" rx="0.8" fill="none" stroke="#000" stroke-width="1.5"/>
<rect x="250.2" y="570.5" width="7" height="7" rx="0.8" fill="none" stroke="#000" stroke-width="1.5"/>
<rect x="265.2" y="573.2" width="7" height="7" rx="0.8" fill="none" stroke="#000" stroke-width="1.5"/>
<rect x="280.2" y="576" width="7" height="7" rx="0.8" fill="none" stroke="#000" stroke-width="1.5"/>
<rect x="294.5" y="578.5" width="7" height="7" rx="0.8" fill="none" stroke="#000" stroke-width="1.5"/>
<rect x="309.5" y="580.8" width="7" height="7" rx="0.8" fill="none" stroke="#000" stroke-width="1.5"/>
<rect x="324" y="582.8" width="7" height="7" rx="0.8" fill="none" stroke="#000" stroke-width="1.5"/>
<rect x="339" y="584.8" width="7" height="7" rx="0.8" fill="none" stroke="#000" stroke-width="1.5"/>
<rect x="354" y="586.5" width="7" height="7" rx="0.8" fill="none" stroke="#000" stroke-width="1.5"/>
<rect x="369" y="588.2" width="7" height="7" rx="0.8" fill="none" stroke="#000" stroke-width="1.5"/>
<rect x="384.5" y="590.2" width="7" height="7" rx="0.8" fill="none" stroke="#000" stroke-width="1.5"/>
<rect x="399.8" y="591.5" width="7" height="7" rx="0.8" fill="none" stroke="#000" stroke-width="1.5"/>
<rect x="414.8" y="593.1" width="7" height="7" rx="0.8" fill="none" stroke="#000" stroke-width="1.5"/>
<rect x="430.5" y="594.5" width="7" height="7" rx="0.8" fill="none" stroke="#000" stroke-width="1.5"/>
<rect x="445.2" y="595.7" width="7" height="7" rx="0.8" fill="none" stroke="#000" stroke-width="1.5"/>
<path d="M73.8 464.4L81.8 464.4L77.8 457.6Z" fill="none" stroke="#000" stroke-width="1.5" stroke-linejoin="round"/>
<path d="M74.5 478L82.5 478L78.5 471.2Z" fill="none" stroke="#000" stroke-width="1.5" stroke-linejoin="round"/>
<path d="M75.2 491.1L83.2 491.1L79.2 484.3Z" fill="none" stroke="#000" stroke-width="1.5" stroke-linejoin="round"/>
<path d="M76 504.9L84 504.9L80 498.1Z" fill="none" stroke="#000" stroke-width="1.5" stroke-linejoin="round"/>
<path d="M77.5 518.8L85.5 518.8L81.5 512Z" fill="none" stroke="#000" stroke-width="1.5" stroke-linejoin="round"/>
<path d="M78.3 532.6L86.3 532.6L82.3 525.8Z" fill="none" stroke="#000" stroke-width="1.5" stroke-linejoin="round"/>
<path d="M79 546.4L87 546.4L83 539.6Z" fill="none" stroke="#000" stroke-width="1.5" stroke-linejoin="round"/>
<path d="M80.4 559.9L88.4 559.9L84.4 553.1Z" fill="none" stroke="#000" stroke-width="1.5" stroke-linejoin="round"/>
<path d="M81.8 573.9L89.8 573.9L85.8 567.1Z" fill="none" stroke="#000" stroke-width="1.5" stroke-linejoin="round"/>
<path d="M84 587.6L92 587.6L88 580.9Z" fill="none" stroke="#000" stroke-width="1.5" stroke-linejoin="round"/>
<path d="M86.5 600.9L94.5 600.9L90.5 594.1Z" fill="none" stroke="#000" stroke-width="1.5" stroke-linejoin="round"/>
<path d="M89.2 614.1L97.2 614.1L93.2 607.4Z" fill="none" stroke="#000" stroke-width="1.5" stroke-linejoin="round"/>
<path d="M92.8 627.1L100.8 627.1L96.8 620.4Z" fill="none" stroke="#000" stroke-width="1.5" stroke-linejoin="round"/>
<path d="M96.5 639.6L104.5 639.6L100.5 632.9Z" fill="none" stroke="#000" stroke-width="1.5" stroke-linejoin="round"/>
<path d="M101.8 653.4L109.8 653.4L105.8 646.6Z" fill="none" stroke="#000" stroke-width="1.5" stroke-linejoin="round"/>
<path d="M108 665.4L116 665.4L112 658.6Z" fill="none" stroke="#000" stroke-width="1.5" stroke-linejoin="round"/>
<path d="M115.5 676.4L123.5 676.4L119.5 669.6Z" fill="none" stroke="#000" stroke-width="1.5" stroke-linejoin="round"/>
<path d="M124.5 686L132.5 686L128.5 679.2Z" fill="none" stroke="#000" stroke-width="1.5" stroke-linejoin="round"/>
<path d="M134.5 694.2L142.5 694.2L138.5 687.4Z" fill="none" stroke="#000" stroke-width="1.5" stroke-linejoin="round"/>
<path d="M144.5 701.1L152.5 701.1L148.5 694.3Z" fill="none" stroke="#000" stroke-width="1.5" stroke-linejoin="round"/>
<path d="M156 705.9L164 705.9L160 699.1Z" fill="none" stroke="#000" stroke-width="1.5" stroke-linejoin="round"/>
<path d="M167.9 709.6L175.9 709.6L171.9 702.8Z" fill="none" stroke="#000" stroke-width="1.5" stroke-linejoin="round"/>
<path d="M180 712.6L188 712.6L184 705.8Z" fill="none" stroke="#000" stroke-width="1.5" stroke-linejoin="round"/>
<path d="M192.2 715.1L200.2 715.1L196.2 708.3Z" fill="none" stroke="#000" stroke-width="1.5" stroke-linejoin="round"/>
<path d="M204.4 717.3L212.4 717.3L208.4 710.5Z" fill="none" stroke="#000" stroke-width="1.5" stroke-linejoin="round"/>
<path d="M216.7 719.3L224.7 719.3L220.7 712.5Z" fill="none" stroke="#000" stroke-width="1.5" stroke-linejoin="round"/>
<path d="M229 721L237 721L233 714.2Z" fill="none" stroke="#000" stroke-width="1.5" stroke-linejoin="round"/>
<path d="M241.4 722.6L249.4 722.6L245.4 715.8Z" fill="none" stroke="#000" stroke-width="1.5" stroke-linejoin="round"/>
<path d="M253.7 724L261.7 724L257.7 717.2Z" fill="none" stroke="#000" stroke-width="1.5" stroke-linejoin="round"/>
<path d="M266.1 725.4L274.1 725.4L270.1 718.6Z" fill="none" stroke="#000" stroke-width="1.5" stroke-linejoin="round"/>
<path d="M278.5 726.9L286.5 726.9L282.5 720.1Z" fill="none" stroke="#000" stroke-width="1.5" stroke-linejoin="round"/>
<path d="M290.8 728.3L298.8 728.3L294.8 721.5Z" fill="none" stroke="#000" stroke-width="1.5" stroke-linejoin="round"/>
<path d="M303.2 729.7L311.2 729.7L307.2 722.9Z" fill="none" stroke="#000" stroke-width="1.5" stroke-linejoin="round"/>
<path d="M315.6 730.9L323.6 730.9L319.6 724.1Z" fill="none" stroke="#000" stroke-width="1.5" stroke-linejoin="round"/>
<path d="M328 732.1L336 732.1L332 725.3Z" fill="none" stroke="#000" stroke-width="1.5" stroke-linejoin="round"/>
<path d="M340.4 733.3L348.4 733.3L344.4 726.5Z" fill="none" stroke="#000" stroke-width="1.5" stroke-linejoin="round"/>
<path d="M352.8 734.6L360.8 734.6L356.8 727.8Z" fill="none" stroke="#000" stroke-width="1.5" stroke-linejoin="round"/>
<path d="M365.1 735.8L373.1 735.8L369.1 729Z" fill="none" stroke="#000" stroke-width="1.5" stroke-linejoin="round"/>
<path d="M377.5 737.1L385.5 737.1L381.5 730.3Z" fill="none" stroke="#000" stroke-width="1.5" stroke-linejoin="round"/>
<path d="M389.9 738.3L397.9 738.3L393.9 731.5Z" fill="none" stroke="#000" stroke-width="1.5" stroke-linejoin="round"/>
<path d="M402.3 739.3L410.3 739.3L406.3 732.5Z" fill="none" stroke="#000" stroke-width="1.5" stroke-linejoin="round"/>
<path d="M414.7 740.3L422.7 740.3L418.7 733.5Z" fill="none" stroke="#000" stroke-width="1.5" stroke-linejoin="round"/>
<path d="M427.1 741.1L435.1 741.1L431.1 734.3Z" fill="none" stroke="#000" stroke-width="1.5" stroke-linejoin="round"/>
<path d="M439.6 741.9L447.6 741.9L443.6 735.1Z" fill="none" stroke="#000" stroke-width="1.5" stroke-linejoin="round"/>
<path d="M452 742.6L460 742.6L456 735.8Z" fill="none" stroke="#000" stroke-width="1.5" stroke-linejoin="round"/>
<circle cx="77.7" cy="825" r="4.4" fill="none" stroke="#000" stroke-width="1.5"/>
<circle cx="78.5" cy="811" r="4.4" fill="none" stroke="#000" stroke-width="1.5"/>
<circle cx="78.8" cy="797.3" r="4.4" fill="none" stroke="#000" stroke-width="1.5"/>
<circle cx="79.2" cy="783.5" r="4.4" fill="none" stroke="#000" stroke-width="1.5"/>
<circle cx="80" cy="769.6" r="4.4" fill="none" stroke="#000" stroke-width="1.5"/>
<circle cx="80.8" cy="755.8" r="4.4" fill="none" stroke="#000" stroke-width="1.5"/>
<circle cx="82.3" cy="741.5" r="4.4" fill="none" stroke="#000" stroke-width="1.5"/>
<circle cx="84.8" cy="729.1" r="4.4" fill="none" stroke="#000" stroke-width="1.5"/>
<circle cx="88" cy="715.8" r="4.4" fill="none" stroke="#000" stroke-width="1.5"/>
<circle cx="93" cy="702.9" r="4.4" fill="none" stroke="#000" stroke-width="1.5"/>
<circle cx="100.6" cy="694.1" r="4.4" fill="none" stroke="#000" stroke-width="1.5"/>
<circle cx="110.9" cy="692.4" r="4.4" fill="none" stroke="#000" stroke-width="1.5"/>
<circle cx="121.4" cy="694" r="4.4" fill="none" stroke="#000" stroke-width="1.5"/>
<circle cx="132" cy="698" r="4.4" fill="none" stroke="#000" stroke-width="1.5"/>
<circle cx="142" cy="701.5" r="4.4" fill="none" stroke="#000" stroke-width="1.5"/>
<circle cx="153" cy="705.5" r="4.4" fill="none" stroke="#000" stroke-width="1.5"/>
<circle cx="164.5" cy="708" r="4.4" fill="none" stroke="#000" stroke-width="1.5"/>
<circle cx="175" cy="711.2" r="4.4" fill="none" stroke="#000" stroke-width="1.5"/>
<circle cx="185" cy="712.6" r="4.4" fill="none" stroke="#000" stroke-width="1.5"/>
<circle cx="195.7" cy="714" r="4.4" fill="none" stroke="#000" stroke-width="1.5"/>
<circle cx="206.6" cy="715.4" r="4.4" fill="none" stroke="#000" stroke-width="1.5"/>
<circle cx="217.6" cy="716.8" r="4.4" fill="none" stroke="#000" stroke-width="1.5"/>
<circle cx="228.7" cy="718.2" r="4.4" fill="none" stroke="#000" stroke-width="1.5"/>
<circle cx="240.1" cy="719.5" r="4.4" fill="none" stroke="#000" stroke-width="1.5"/>
<circle cx="251.6" cy="720.7" r="4.4" fill="none" stroke="#000" stroke-width="1.5"/>
<circle cx="263.3" cy="721.8" r="4.4" fill="none" stroke="#000" stroke-width="1.5"/>
<circle cx="275.1" cy="723" r="4.4" fill="none" stroke="#000" stroke-width="1.5"/>
<circle cx="287.2" cy="724.3" r="4.4" fill="none" stroke="#000" stroke-width="1.5"/>
<circle cx="299.4" cy="725.4" r="4.4" fill="none" stroke="#000" stroke-width="1.5"/>
<circle cx="311.8" cy="726.5" r="4.4" fill="none" stroke="#000" stroke-width="1.5"/>
<circle cx="324.2" cy="727.6" r="4.4" fill="none" stroke="#000" stroke-width="1.5"/>
<circle cx="336.6" cy="728.5" r="4.4" fill="none" stroke="#000" stroke-width="1.5"/>
<circle cx="349" cy="729.3" r="4.4" fill="none" stroke="#000" stroke-width="1.5"/>
<circle cx="361.4" cy="730.1" r="4.4" fill="none" stroke="#000" stroke-width="1.5"/>
<circle cx="373.8" cy="730.9" r="4.4" fill="none" stroke="#000" stroke-width="1.5"/>
<circle cx="386.3" cy="731.6" r="4.4" fill="none" stroke="#000" stroke-width="1.5"/>
<circle cx="398.7" cy="732.2" r="4.4" fill="none" stroke="#000" stroke-width="1.5"/>
<circle cx="411.2" cy="732.7" r="4.4" fill="none" stroke="#000" stroke-width="1.5"/>
<circle cx="423.6" cy="733.1" r="4.4" fill="none" stroke="#000" stroke-width="1.5"/>
<circle cx="436" cy="733.5" r="4.4" fill="none" stroke="#000" stroke-width="1.5"/>
<circle cx="448.5" cy="733.9" r="4.4" fill="none" stroke="#000" stroke-width="1.5"/>
<path d="M71.5 816L76.5 811L81.5 816L76.5 821Z" fill="none" stroke="#000" stroke-width="1.5"/>
<path d="M77.3 803.5L82.3 798.5L87.3 803.5L82.3 808.5Z" fill="none" stroke="#000" stroke-width="1.5"/>
<path d="M80.4 790.4L85.4 785.4L90.4 790.4L85.4 795.4Z" fill="none" stroke="#000" stroke-width="1.5"/>
<path d="M84.2 776.5L89.2 771.5L94.2 776.5L89.2 781.5Z" fill="none" stroke="#000" stroke-width="1.5"/>
<path d="M89.2 763.8L94.2 758.8L99.2 763.8L94.2 768.8Z" fill="none" stroke="#000" stroke-width="1.5"/>
<path d="M95.2 752.3L100.2 747.3L105.2 752.3L100.2 757.3Z" fill="none" stroke="#000" stroke-width="1.5"/>
<path d="M104 741.4L109 736.4L114 741.4L109 746.4Z" fill="none" stroke="#000" stroke-width="1.5"/>
<path d="M113.6 732.8L118.6 727.8L123.6 732.8L118.6 737.8Z" fill="none" stroke="#000" stroke-width="1.5"/>
<path d="M123.6 725.4L128.6 720.4L133.6 725.4L128.6 730.4Z" fill="none" stroke="#000" stroke-width="1.5"/>
<path d="M134.3 720.2L139.3 715.2L144.3 720.2L139.3 725.2Z" fill="none" stroke="#000" stroke-width="1.5"/>
<path d="M146 717.3L151 712.3L156 717.3L151 722.3Z" fill="none" stroke="#000" stroke-width="1.5"/>
<path d="M159.5 715.5L164.5 710.5L169.5 715.5L164.5 720.5Z" fill="none" stroke="#000" stroke-width="1.5"/>
<path d="M171.2 714.4L176.2 709.4L181.2 714.4L176.2 719.4Z" fill="none" stroke="#000" stroke-width="1.5"/>
<path d="M183.9 714.3L188.9 709.3L193.9 714.3L188.9 719.3Z" fill="none" stroke="#000" stroke-width="1.5"/>
<path d="M196.5 714.3L201.5 709.3L206.5 714.3L201.5 719.3Z" fill="none" stroke="#000" stroke-width="1.5"/>
<path d="M209.1 714.7L214.1 709.7L219.1 714.7L214.1 719.7Z" fill="none" stroke="#000" stroke-width="1.5"/>
<path d="M221.7 715.4L226.7 710.4L231.7 715.4L226.7 720.4Z" fill="none" stroke="#000" stroke-width="1.5"/>
<path d="M234.3 716.1L239.3 711.1L244.3 716.1L239.3 721.1Z" fill="none" stroke="#000" stroke-width="1.5"/>
<path d="M246.9 716.8L251.9 711.8L256.9 716.8L251.9 721.8Z" fill="none" stroke="#000" stroke-width="1.5"/>
<path d="M259.5 717.5L264.5 712.5L269.5 717.5L264.5 722.5Z" fill="none" stroke="#000" stroke-width="1.5"/>
<path d="M272.5 718.4L277.5 713.4L282.5 718.4L277.5 723.4Z" fill="none" stroke="#000" stroke-width="1.5"/>
<path d="M285.5 719.2L290.5 714.2L295.5 719.2L290.5 724.2Z" fill="none" stroke="#000" stroke-width="1.5"/>
<path d="M298.2 720L303.2 715L308.2 720L303.2 725Z" fill="none" stroke="#000" stroke-width="1.5"/>
<path d="M311.2 720.8L316.2 715.8L321.2 720.8L316.2 725.8Z" fill="none" stroke="#000" stroke-width="1.5"/>
<path d="M324.2 721.9L329.2 716.9L334.2 721.9L329.2 726.9Z" fill="none" stroke="#000" stroke-width="1.5"/>
<path d="M337.5 723L342.5 718L347.5 723L342.5 728Z" fill="none" stroke="#000" stroke-width="1.5"/>
<path d="M350.8 723.8L355.8 718.8L360.8 723.8L355.8 728.8Z" fill="none" stroke="#000" stroke-width="1.5"/>
<path d="M364.2 724.6L369.2 719.6L374.2 724.6L369.2 729.6Z" fill="none" stroke="#000" stroke-width="1.5"/>
<path d="M377.5 725.6L382.5 720.6L387.5 725.6L382.5 730.6Z" fill="none" stroke="#000" stroke-width="1.5"/>
<path d="M390.4 726.5L395.4 721.5L400.4 726.5L395.4 731.5Z" fill="none" stroke="#000" stroke-width="1.5"/>
<path d="M403.5 727.3L408.5 722.3L413.5 727.3L408.5 732.3Z" fill="none" stroke="#000" stroke-width="1.5"/>
<path d="M416.5 728L421.5 723L426.5 728L421.5 733Z" fill="none" stroke="#000" stroke-width="1.5"/>
<path d="M430.4 728.7L435.4 723.7L440.4 728.7L435.4 733.7Z" fill="none" stroke="#000" stroke-width="1.5"/>
<path d="M443.8 729.3L448.8 724.3L453.8 729.3L448.8 734.3Z" fill="none" stroke="#000" stroke-width="1.5"/>
<text transform="translate(188.7 491) scale(1.0730 1)" font-family='"Liberation Sans", Arial, Helvetica, sans-serif' font-size="18" font-weight="bold" stroke="#000" stroke-width="0.35" >Symbols</text>
<text transform="translate(285 491) scale(1.0625 1)" font-family='"Liberation Sans", Arial, Helvetica, sans-serif' font-size="18" font-weight="bold" stroke="#000" stroke-width="0.35" >DMS</text>
<line x1="188.3" y1="510" x2="268.8" y2="510" stroke="#000" stroke-width="1.5" stroke-linecap="butt"/>
<line x1="188.3" y1="531.8" x2="268.8" y2="531.8" stroke="#2323d2" stroke-width="1.5" stroke-linecap="butt"/>
<text transform="translate(285 515) scale(0.9986 1)" font-family='"Liberation Sans", Arial, Helvetica, sans-serif' font-size="17.8" font-weight="bold" stroke="#000" stroke-width="0.35" >Present Model</text>
<text transform="translate(285 536.5) scale(0.9898 1)" font-family='"Liberation Sans", Arial, Helvetica, sans-serif' font-size="17.8" font-weight="bold" stroke="#000" stroke-width="0.35" >Park Model</text>
<text transform="translate(100.2 598) scale(1.0021 1)" font-family='"Liberation Sans", Arial, Helvetica, sans-serif' font-size="19" font-weight="bold" stroke="#000" stroke-width="0.35" >Trans</text>
<line x1="116.3" y1="757" x2="111.5" y2="710.5" stroke="#000" stroke-width="1.6" stroke-linecap="round"/>
<path d="M110.4 699.6L115.1 712.2L108.3 712.9Z" fill="#000"/>
<line x1="116.3" y1="757" x2="105.3" y2="740.6" stroke="#000" stroke-width="1.6" stroke-linecap="round"/>
<path d="M99.2 731.5L109.3 740.4L103.6 744.2Z" fill="#000"/>
<text transform="translate(105.9 775.5) scale(0.9542 1)" font-family='"Liberation Sans", Arial, Helvetica, sans-serif' font-size="19.5" font-weight="bold" stroke="#000" stroke-width="0.35" >Rot</text>
<line x1="166.9" y1="753.1" x2="149.8" y2="735.6" stroke="#000" stroke-width="1.6" stroke-linecap="round"/>
<path d="M141.1 726.6L154.1 734.2L148.3 739.8Z" fill="#000"/>
<line x1="166.9" y1="753.1" x2="188.7" y2="735.9" stroke="#000" stroke-width="1.6" stroke-linecap="round"/>
<path d="M198.5 728.2L189.6 740.3L184.6 734Z" fill="#000"/>
<text transform="translate(154.3 771) scale(0.9772 1)" font-family='"Liberation Sans", Arial, Helvetica, sans-serif' font-size="19.3" font-weight="bold" stroke="#000" stroke-width="0.35" >Vib</text>
<text transform="translate(351.6 618.6) scale(0.9600 1)" font-family='"Liberation Sans", Arial, Helvetica, sans-serif' font-size="19.5" font-weight="bold" stroke="#000" stroke-width="0.35" >[N<tspan font-size="14" dy="5.5">2</tspan><tspan dy="-5.5">]/[N</tspan><tspan font-size="14" dy="5.5">2</tspan><tspan dy="-5.5">]</tspan><tspan font-size="14" dy="5.5">0</tspan></text>
<line x1="77.6" y1="460.2" x2="77.6" y2="825.8" stroke="#000" stroke-width="1.6" stroke-linecap="butt"/>
<line x1="76.8" y1="825" x2="458" y2="825" stroke="#000" stroke-width="1.6" stroke-linecap="butt"/>
<line x1="457.2" y1="460.2" x2="457.2" y2="825.8" stroke="#000" stroke-width="1.6" stroke-linecap="butt"/>
<line x1="77.6" y1="814.8" x2="82.6" y2="814.8" stroke="#444" stroke-width="1.0" stroke-linecap="butt"/>
<line x1="77.6" y1="802.7" x2="82.6" y2="802.7" stroke="#444" stroke-width="1.0" stroke-linecap="butt"/>
<line x1="77.6" y1="790.7" x2="82.6" y2="790.7" stroke="#444" stroke-width="1.0" stroke-linecap="butt"/>
<line x1="77.6" y1="778.6" x2="82.6" y2="778.6" stroke="#444" stroke-width="1.0" stroke-linecap="butt"/>
<line x1="77.6" y1="766.6" x2="86.6" y2="766.6" stroke="#000" stroke-width="1.5" stroke-linecap="butt"/>
<line x1="77.6" y1="754.6" x2="82.6" y2="754.6" stroke="#444" stroke-width="1.0" stroke-linecap="butt"/>
<line x1="77.6" y1="742.5" x2="82.6" y2="742.5" stroke="#444" stroke-width="1.0" stroke-linecap="butt"/>
<line x1="77.6" y1="730.5" x2="82.6" y2="730.5" stroke="#444" stroke-width="1.0" stroke-linecap="butt"/>
<line x1="77.6" y1="718.4" x2="82.6" y2="718.4" stroke="#444" stroke-width="1.0" stroke-linecap="butt"/>
<line x1="77.6" y1="706.4" x2="86.6" y2="706.4" stroke="#000" stroke-width="1.5" stroke-linecap="butt"/>
<line x1="77.6" y1="694.4" x2="82.6" y2="694.4" stroke="#444" stroke-width="1.0" stroke-linecap="butt"/>
<line x1="77.6" y1="682.3" x2="82.6" y2="682.3" stroke="#444" stroke-width="1.0" stroke-linecap="butt"/>
<line x1="77.6" y1="670.3" x2="82.6" y2="670.3" stroke="#444" stroke-width="1.0" stroke-linecap="butt"/>
<line x1="77.6" y1="658.2" x2="82.6" y2="658.2" stroke="#444" stroke-width="1.0" stroke-linecap="butt"/>
<line x1="77.6" y1="646.2" x2="86.6" y2="646.2" stroke="#000" stroke-width="1.5" stroke-linecap="butt"/>
<line x1="77.6" y1="634.2" x2="82.6" y2="634.2" stroke="#444" stroke-width="1.0" stroke-linecap="butt"/>
<line x1="77.6" y1="622.1" x2="82.6" y2="622.1" stroke="#444" stroke-width="1.0" stroke-linecap="butt"/>
<line x1="77.6" y1="610.1" x2="82.6" y2="610.1" stroke="#444" stroke-width="1.0" stroke-linecap="butt"/>
<line x1="77.6" y1="598" x2="82.6" y2="598" stroke="#444" stroke-width="1.0" stroke-linecap="butt"/>
<line x1="77.6" y1="586" x2="86.6" y2="586" stroke="#000" stroke-width="1.5" stroke-linecap="butt"/>
<line x1="77.6" y1="574" x2="82.6" y2="574" stroke="#444" stroke-width="1.0" stroke-linecap="butt"/>
<line x1="77.6" y1="561.9" x2="82.6" y2="561.9" stroke="#444" stroke-width="1.0" stroke-linecap="butt"/>
<line x1="77.6" y1="549.9" x2="82.6" y2="549.9" stroke="#444" stroke-width="1.0" stroke-linecap="butt"/>
<line x1="77.6" y1="537.8" x2="82.6" y2="537.8" stroke="#444" stroke-width="1.0" stroke-linecap="butt"/>
<line x1="77.6" y1="525.8" x2="86.6" y2="525.8" stroke="#000" stroke-width="1.5" stroke-linecap="butt"/>
<line x1="77.6" y1="513.8" x2="82.6" y2="513.8" stroke="#444" stroke-width="1.0" stroke-linecap="butt"/>
<line x1="77.6" y1="501.7" x2="82.6" y2="501.7" stroke="#444" stroke-width="1.0" stroke-linecap="butt"/>
<line x1="77.6" y1="489.7" x2="82.6" y2="489.7" stroke="#444" stroke-width="1.0" stroke-linecap="butt"/>
<line x1="77.6" y1="477.6" x2="82.6" y2="477.6" stroke="#444" stroke-width="1.0" stroke-linecap="butt"/>
<line x1="77.6" y1="465.6" x2="86.6" y2="465.6" stroke="#000" stroke-width="1.5" stroke-linecap="butt"/>
<line x1="448.2" y1="824.6" x2="457.2" y2="824.6" stroke="#000" stroke-width="1.5" stroke-linecap="butt"/>
<line x1="451.9" y1="806.4" x2="457.2" y2="806.4" stroke="#444" stroke-width="1.0" stroke-linecap="butt"/>
<line x1="451.9" y1="788.2" x2="457.2" y2="788.2" stroke="#444" stroke-width="1.0" stroke-linecap="butt"/>
<line x1="451.9" y1="770" x2="457.2" y2="770" stroke="#444" stroke-width="1.0" stroke-linecap="butt"/>
<line x1="448.2" y1="751.8" x2="457.2" y2="751.8" stroke="#000" stroke-width="1.5" stroke-linecap="butt"/>
<line x1="451.9" y1="733.6" x2="457.2" y2="733.6" stroke="#444" stroke-width="1.0" stroke-linecap="butt"/>
<line x1="451.9" y1="715.5" x2="457.2" y2="715.5" stroke="#444" stroke-width="1.0" stroke-linecap="butt"/>
<line x1="451.9" y1="697.3" x2="457.2" y2="697.3" stroke="#444" stroke-width="1.0" stroke-linecap="butt"/>
<line x1="448.2" y1="679.1" x2="457.2" y2="679.1" stroke="#000" stroke-width="1.5" stroke-linecap="butt"/>
<line x1="451.9" y1="660.9" x2="457.2" y2="660.9" stroke="#444" stroke-width="1.0" stroke-linecap="butt"/>
<line x1="451.9" y1="642.7" x2="457.2" y2="642.7" stroke="#444" stroke-width="1.0" stroke-linecap="butt"/>
<line x1="451.9" y1="624.5" x2="457.2" y2="624.5" stroke="#444" stroke-width="1.0" stroke-linecap="butt"/>
<line x1="448.2" y1="606.3" x2="457.2" y2="606.3" stroke="#000" stroke-width="1.5" stroke-linecap="butt"/>
<line x1="451.9" y1="588.1" x2="457.2" y2="588.1" stroke="#444" stroke-width="1.0" stroke-linecap="butt"/>
<line x1="451.9" y1="569.9" x2="457.2" y2="569.9" stroke="#444" stroke-width="1.0" stroke-linecap="butt"/>
<line x1="451.9" y1="551.8" x2="457.2" y2="551.8" stroke="#444" stroke-width="1.0" stroke-linecap="butt"/>
<line x1="448.2" y1="533.6" x2="457.2" y2="533.6" stroke="#000" stroke-width="1.5" stroke-linecap="butt"/>
<line x1="451.9" y1="515.4" x2="457.2" y2="515.4" stroke="#444" stroke-width="1.0" stroke-linecap="butt"/>
<line x1="451.9" y1="497.2" x2="457.2" y2="497.2" stroke="#444" stroke-width="1.0" stroke-linecap="butt"/>
<line x1="451.9" y1="479" x2="457.2" y2="479" stroke="#444" stroke-width="1.0" stroke-linecap="butt"/>
<line x1="448.2" y1="460.8" x2="457.2" y2="460.8" stroke="#000" stroke-width="1.5" stroke-linecap="butt"/>
<line x1="77.6" y1="816.5" x2="77.6" y2="825" stroke="#000" stroke-width="1.5" stroke-linecap="butt"/>
<line x1="102.9" y1="820.5" x2="102.9" y2="825" stroke="#444" stroke-width="1.0" stroke-linecap="butt"/>
<line x1="128.2" y1="820.5" x2="128.2" y2="825" stroke="#444" stroke-width="1.0" stroke-linecap="butt"/>
<line x1="153.5" y1="820.5" x2="153.5" y2="825" stroke="#444" stroke-width="1.0" stroke-linecap="butt"/>
<line x1="178.8" y1="820.5" x2="178.8" y2="825" stroke="#444" stroke-width="1.0" stroke-linecap="butt"/>
<line x1="204.1" y1="816.5" x2="204.1" y2="825" stroke="#000" stroke-width="1.5" stroke-linecap="butt"/>
<line x1="229.4" y1="820.5" x2="229.4" y2="825" stroke="#444" stroke-width="1.0" stroke-linecap="butt"/>
<line x1="254.7" y1="820.5" x2="254.7" y2="825" stroke="#444" stroke-width="1.0" stroke-linecap="butt"/>
<line x1="280" y1="820.5" x2="280" y2="825" stroke="#444" stroke-width="1.0" stroke-linecap="butt"/>
<line x1="305.3" y1="820.5" x2="305.3" y2="825" stroke="#444" stroke-width="1.0" stroke-linecap="butt"/>
<line x1="330.6" y1="816.5" x2="330.6" y2="825" stroke="#000" stroke-width="1.5" stroke-linecap="butt"/>
<line x1="355.9" y1="820.5" x2="355.9" y2="825" stroke="#444" stroke-width="1.0" stroke-linecap="butt"/>
<line x1="381.2" y1="820.5" x2="381.2" y2="825" stroke="#444" stroke-width="1.0" stroke-linecap="butt"/>
<line x1="406.5" y1="820.5" x2="406.5" y2="825" stroke="#444" stroke-width="1.0" stroke-linecap="butt"/>
<line x1="431.8" y1="820.5" x2="431.8" y2="825" stroke="#444" stroke-width="1.0" stroke-linecap="butt"/>
<line x1="457.1" y1="816.5" x2="457.1" y2="825" stroke="#000" stroke-width="1.5" stroke-linecap="butt"/>
<text transform="translate(72 472.5)" font-family='"Liberation Sans", Arial, Helvetica, sans-serif' font-size="17.5" text-anchor="end" >6</text>
<text transform="translate(72 532.1)" font-family='"Liberation Sans", Arial, Helvetica, sans-serif' font-size="17.5" text-anchor="end" >5</text>
<text transform="translate(72 592.3)" font-family='"Liberation Sans", Arial, Helvetica, sans-serif' font-size="17.5" text-anchor="end" >4</text>
<text transform="translate(72 652.5)" font-family='"Liberation Sans", Arial, Helvetica, sans-serif' font-size="17.5" text-anchor="end" >3</text>
<text transform="translate(72 712.7)" font-family='"Liberation Sans", Arial, Helvetica, sans-serif' font-size="17.5" text-anchor="end" >2</text>
<text transform="translate(72 772.9)" font-family='"Liberation Sans", Arial, Helvetica, sans-serif' font-size="17.5" text-anchor="end" >1</text>
<text transform="translate(78 841.5)" font-family='"Liberation Sans", Arial, Helvetica, sans-serif' font-size="17.5" text-anchor="middle" >0</text>
<text transform="translate(203.6 841.5)" font-family='"Liberation Sans", Arial, Helvetica, sans-serif' font-size="17.5" text-anchor="middle" >5E-07</text>
<text transform="translate(330.1 841.5)" font-family='"Liberation Sans", Arial, Helvetica, sans-serif' font-size="17.5" text-anchor="middle" >1E-06</text>
<text transform="translate(456.6 841.5)" font-family='"Liberation Sans", Arial, Helvetica, sans-serif' font-size="17.5" text-anchor="middle" >1.5E-06</text>
<text transform="translate(464.3 467)" font-family='"Liberation Sans", Arial, Helvetica, sans-serif' font-size="17.5" >1</text>
<text transform="translate(462.4 539.8)" font-family='"Liberation Sans", Arial, Helvetica, sans-serif' font-size="17.5" >0.8</text>
<text transform="translate(462.4 612.5)" font-family='"Liberation Sans", Arial, Helvetica, sans-serif' font-size="17.5" >0.6</text>
<text transform="translate(462.4 685.3)" font-family='"Liberation Sans", Arial, Helvetica, sans-serif' font-size="17.5" >0.4</text>
<text transform="translate(462.4 758)" font-family='"Liberation Sans", Arial, Helvetica, sans-serif' font-size="17.5" >0.2</text>
<text transform="translate(462.5 825.8)" font-family='"Liberation Sans", Arial, Helvetica, sans-serif' font-size="17.5" >0</text>
<text transform="translate(42 773.8) rotate(-90) scale(1.0035 1)" font-family='"Liberation Sans", Arial, Helvetica, sans-serif' font-size="20.8" font-weight="bold" stroke="#000" stroke-width="0.35" >Trans, Rot, Vib [K] ( X 10<tspan font-size="13.5" dy="-8.5">4</tspan><tspan dy="8.5"> )</tspan></text>
<text transform="translate(511.4 684.5) rotate(-90) scale(1.0136 1)" font-family='"Liberation Sans", Arial, Helvetica, sans-serif' font-size="19" font-weight="bold" stroke="#000" stroke-width="0.35" >[N<tspan font-size="14" dy="5.5">2</tspan><tspan dy="-5.5">]/[N</tspan><tspan font-size="14" dy="5.5">2</tspan><tspan dy="-5.5">]</tspan><tspan font-size="14" dy="5.5">0</tspan></text>
<text transform="translate(267.8 862.5) scale(0.9945 1)" font-family='"Liberation Sans", Arial, Helvetica, sans-serif' font-size="20.5" font-weight="bold" stroke="#000" stroke-width="0.35" text-anchor="middle" >time [s]</text>
<text transform="translate(270.5 890)" font-family='"Liberation Serif", "Times New Roman", serif' font-size="20" text-anchor="middle" >(b)</text>
</svg>
</body></html>
